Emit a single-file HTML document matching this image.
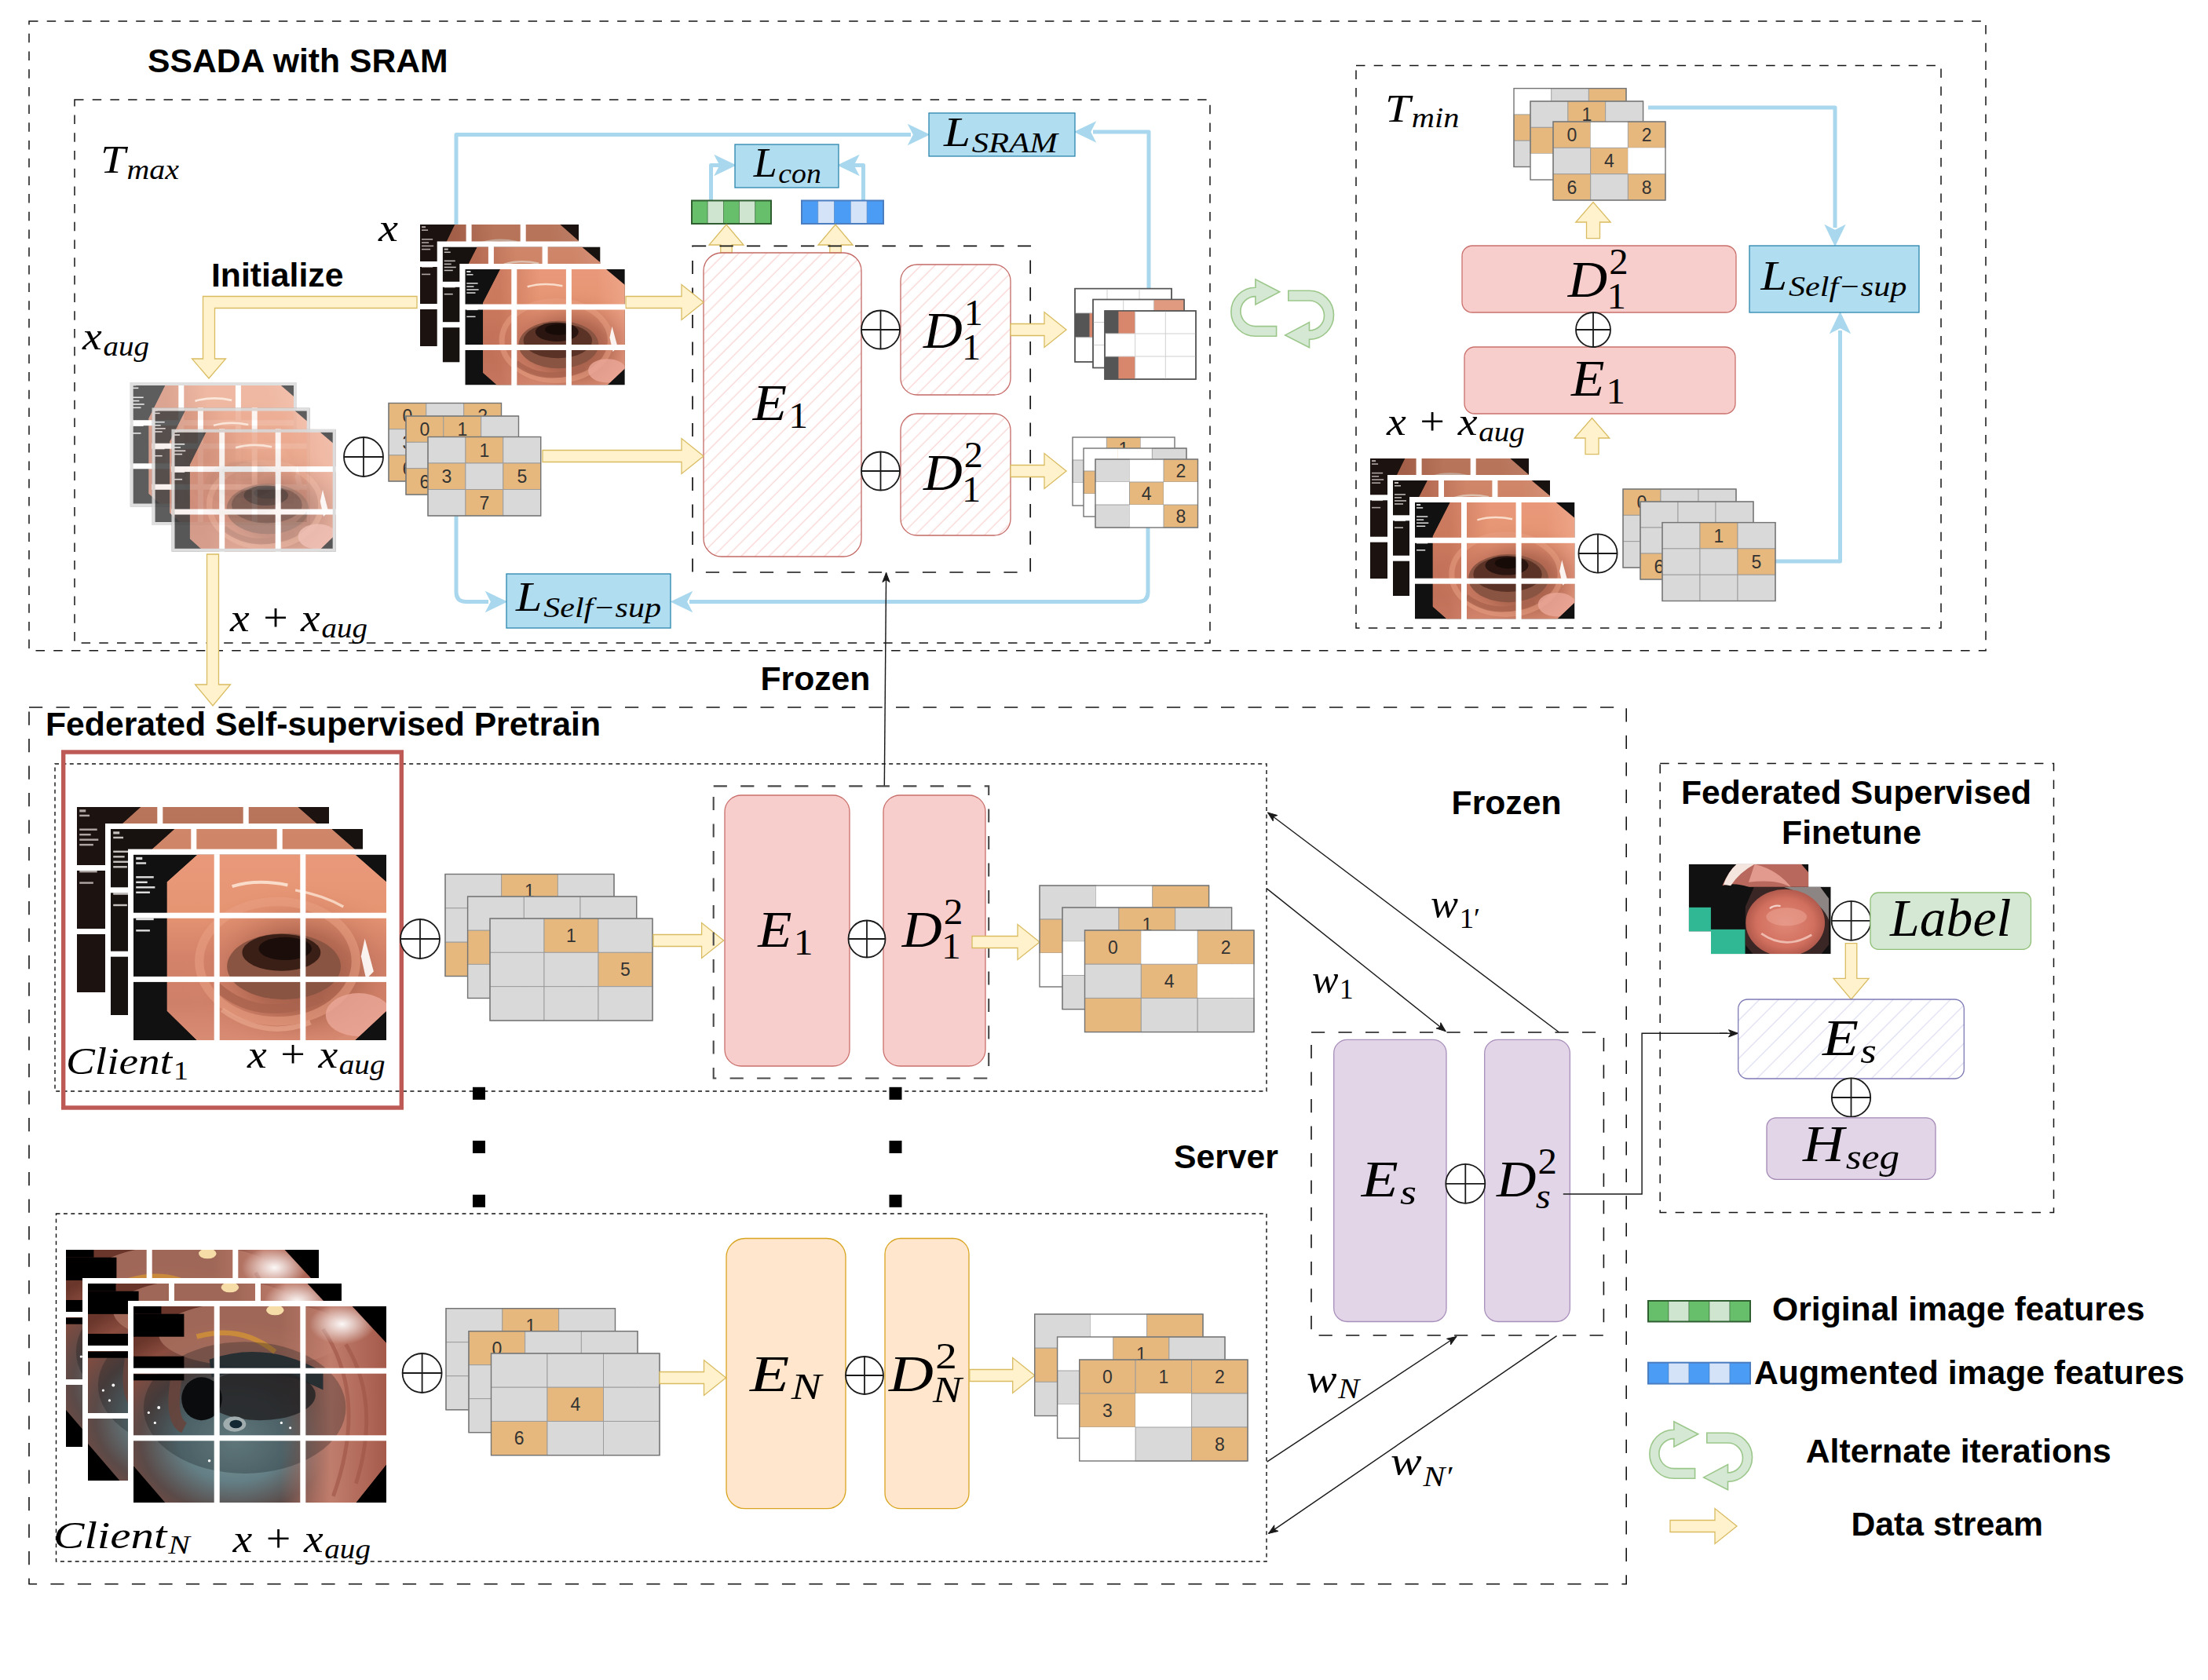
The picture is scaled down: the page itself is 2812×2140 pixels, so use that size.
<!DOCTYPE html>
<html lang="en"><head><meta charset="utf-8"><title>Federated self-supervised framework</title>
<style>html,body{margin:0;padding:0;background:#fff}svg{display:block}</style></head><body>
<svg width="2812" height="2140" viewBox="0 0 2812 2140">
<rect width="2812" height="2140" fill="#fff"/>
<defs>
<pattern id="hpink" width="12.5" height="12.5" patternUnits="userSpaceOnUse" patternTransform="rotate(-45)">
<line x1="0" y1="6" x2="12.5" y2="6" stroke="#f8d0ce" stroke-width="1.15"/></pattern>
<pattern id="hgrey" width="17.2" height="17.2" patternUnits="userSpaceOnUse" patternTransform="rotate(-45)">
<line x1="0" y1="8" x2="17.2" y2="8" stroke="#dcdcf3" stroke-width="1.2"/></pattern>
<linearGradient id="gp1" x1="0" y1="0" x2="0" y2="1">
<stop offset="0" stop-color="#e9997a"/><stop offset="0.3" stop-color="#e69573"/><stop offset="0.55" stop-color="#d4826a"/>
<stop offset="0.8" stop-color="#cf8068"/><stop offset="1" stop-color="#d98c74"/></linearGradient>
<radialGradient id="gp1r" cx="0.58" cy="0.56" r="0.5"><stop offset="0" stop-color="#8a4e3c" stop-opacity=".95"/>
<stop offset="0.45" stop-color="#a9614b" stop-opacity=".75"/><stop offset="0.75" stop-color="#c97a60" stop-opacity=".3"/><stop offset="1" stop-color="#d98a6e" stop-opacity="0"/></radialGradient>
<linearGradient id="gp1l" x1="0" y1="0" x2="1" y2="0"><stop offset="0.12" stop-color="#b9674f" stop-opacity=".6"/>
<stop offset="0.4" stop-color="#b9674f" stop-opacity="0"/><stop offset="0.8" stop-color="#f2ae95" stop-opacity="0"/><stop offset="1" stop-color="#f2ae95" stop-opacity=".55"/></linearGradient>
<radialGradient id="gpn" cx="0.4" cy="0.68" r="0.62">
<stop offset="0" stop-color="#7f9ca0"/><stop offset="0.35" stop-color="#637e84"/><stop offset="0.6" stop-color="#5a4a48"/>
<stop offset="0.85" stop-color="#8a4c3e"/><stop offset="1" stop-color="#6a362b"/></radialGradient>
<linearGradient id="gpnr" x1="0" y1="0" x2="1" y2="0"><stop offset="0.58" stop-color="#c07a6a" stop-opacity="0"/>
<stop offset="0.78" stop-color="#c4806f" stop-opacity=".95"/><stop offset="1" stop-color="#a85c4c" stop-opacity=".95"/></linearGradient>
<radialGradient id="gpnh" cx="0.5" cy="0.5" r="0.5"><stop offset="0" stop-color="#fff" stop-opacity=".95"/><stop offset="1" stop-color="#fff" stop-opacity="0"/></radialGradient>
<radialGradient id="gp3" cx="0.5" cy="0.5" r="0.6"><stop offset="0" stop-color="#e08878"/><stop offset="0.6" stop-color="#d2705f"/>
<stop offset="1" stop-color="#9a4a3f"/></radialGradient>

<symbol id="ph1" viewBox="0 0 200 146" preserveAspectRatio="none">
<rect width="200" height="146" fill="#111"/>
<polygon id="oct1" points="26.6,21.6 50.8,0 175.2,0 200,21.6 200,123 175.2,146 50.2,146 26.6,123" fill="url(#gp1)"/>
<use href="#oct1" fill="url(#gp1l)"/>
<clipPath id="c1"><polygon points="26.6,21.6 50.8,0 175.2,0 200,21.6 200,123 175.2,146 50.2,146 26.6,123"/></clipPath>
<g clip-path="url(#c1)">
<ellipse cx="116" cy="84" rx="92" ry="70" fill="url(#gp1r)"/>
<ellipse cx="114" cy="84" rx="62" ry="47" fill="none" stroke="#e9a184" stroke-width="7" opacity=".55"/>
<ellipse cx="119" cy="88" rx="45" ry="26" fill="#8a5442"/>
<ellipse cx="117" cy="77" rx="31" ry="14.5" fill="#3a1f17"/>
<ellipse cx="120" cy="74" rx="21" ry="9" fill="#1a0d0a"/>
<path d="M66 104Q100 134 150 112" stroke="#a9634e" stroke-width="7" fill="none" opacity=".8"/>
<path d="M70 122Q104 146 140 132" stroke="#e7a58c" stroke-width="4" fill="none" opacity=".7"/>
<ellipse cx="178" cy="126" rx="26" ry="17" fill="#eba898" opacity=".8"/>
<path d="M183 66L190 92L184 98L180 80Z" fill="#fff" opacity=".9"/>
<path d="M78 25Q98 19 122 24" stroke="#fbe3d3" stroke-width="2.5" fill="none" opacity=".9"/>
<path d="M128 28Q150 32 166 41" stroke="#fbe3d3" stroke-width="2" fill="none" opacity=".8"/>
</g>
<g fill="#ddd"><rect x="2" y="2" width="5" height="2"/><rect x="2" y="6" width="8" height="1.5"/><rect x="2" y="17" width="14" height="1.5"/><rect x="2" y="21" width="9" height="1.5"/>
<rect x="2" y="25" width="15" height="1.5"/><rect x="2" y="29" width="11" height="1.5"/><rect x="2" y="50" width="14" height="1.6"/><rect x="2" y="59" width="11" height="1.5"/></g>
</symbol>

<symbol id="ph1b" viewBox="0 0 200 146" preserveAspectRatio="none">
<rect width="200" height="146" fill="#111"/>
<polygon points="22.4,42.3 44,0 176.6,0 200,19.7 200,125 178,146 40,146 22.4,130.5" fill="url(#gp1)"/>
<polygon points="22.4,42.3 44,0 176.6,0 200,19.7 200,125 178,146 40,146 22.4,130.5" fill="url(#gp1l)"/>
<clipPath id="c1b"><polygon points="22.4,42.3 44,0 176.6,0 200,19.7 200,125 178,146 40,146 22.4,130.5"/></clipPath>
<g clip-path="url(#c1b)">
<ellipse cx="116" cy="90" rx="98" ry="74" fill="url(#gp1r)"/>
<ellipse cx="114" cy="90" rx="68" ry="50" fill="none" stroke="#e9a184" stroke-width="7" opacity=".5"/>
<ellipse cx="117" cy="95" rx="50" ry="30" fill="#8a5442"/>
<ellipse cx="116" cy="90" rx="43" ry="22" fill="#5a3226"/>
<ellipse cx="115" cy="79" rx="27" ry="12" fill="#2a1510"/>
<ellipse cx="117" cy="76" rx="17" ry="7" fill="#170b08"/>
<path d="M64 118Q100 146 150 124" stroke="#a9634e" stroke-width="7" fill="none" opacity=".8"/>
<ellipse cx="178" cy="128" rx="24" ry="15" fill="#eba898" opacity=".8"/>
<path d="M184 72L191 98L185 104L181 86Z" fill="#fff" opacity=".9"/>
<path d="M78 22Q98 16 122 21" stroke="#fbe3d3" stroke-width="2.5" fill="none" opacity=".9"/>
</g>
<g fill="#ddd"><rect x="2" y="2" width="5" height="2"/><rect x="2" y="6" width="8" height="1.5"/><rect x="2" y="17" width="14" height="1.5"/><rect x="2" y="21" width="9" height="1.5"/>
<rect x="2" y="25" width="15" height="1.5"/><rect x="2" y="29" width="11" height="1.5"/><rect x="2" y="50" width="14" height="1.6"/><rect x="2" y="59" width="11" height="1.5"/></g>
</symbol>

<symbol id="phn" viewBox="0 0 200 155" preserveAspectRatio="none">
<rect width="200" height="155" fill="#000"/>
<clipPath id="cn"><polygon points="0,0 173,0 200,29 200,125 176,155 25,155 0,126"/></clipPath>
<g clip-path="url(#cn)">
<rect width="200" height="155" fill="url(#gpn)"/>
<ellipse cx="95" cy="22" rx="75" ry="26" fill="#a8705f" opacity=".85"/>
<rect width="200" height="155" fill="url(#gpnr)"/>
<path d="M60 42Q105 26 150 52L150 66Q105 44 62 56Z" fill="#26343a" opacity=".9"/>
<ellipse cx="100" cy="70" rx="44" ry="20" fill="#2e2a2c" opacity=".85"/>
<path d="M50 24Q85 14 112 36" stroke="#c98a3c" stroke-width="4" fill="none"/>
<ellipse cx="54" cy="73" rx="16" ry="17" fill="#0b0909"/>
<path d="M34 56Q28 90 40 96" stroke="#8a564a" stroke-width="9" fill="none" opacity=".9"/>
<ellipse cx="80" cy="93" rx="9" ry="6" fill="#d9e6e8"/><ellipse cx="81" cy="93" rx="5" ry="3.2" fill="#16303c"/>
<path d="M150 18Q186 72 158 150" stroke="#9a5042" stroke-width="3" fill="none" opacity=".55"/>
<path d="M168 30Q196 76 176 140" stroke="#9a5042" stroke-width="3" fill="none" opacity=".5"/>
<ellipse cx="88" cy="80" rx="80" ry="52" fill="#101418" opacity=".28"/>
<ellipse cx="165" cy="14" rx="26" ry="16" fill="url(#gpnh)"/>
<ellipse cx="112" cy="3" rx="7" ry="4" fill="#ffe9b0" opacity=".9"/>
</g>
<rect x="0" y="0" width="22" height="6" fill="#000"/><rect x="0" y="6" width="40" height="18" fill="#000"/><rect x="0" y="39.5" width="40" height="12" fill="#000"/><rect x="0" y="53.5" width="40" height="5" fill="#000"/>
<g fill="#fff"><circle cx="20" cy="80" r="1.2"/><circle cx="17" cy="92" r="1"/><circle cx="12" cy="84" r="1"/><circle cx="60" cy="122" r="1.1"/><circle cx="117" cy="92" r="1"/><circle cx="124" cy="96" r="1"/></g>
</symbol>

<symbol id="ph3" viewBox="0 0 200 112" preserveAspectRatio="none">
<rect width="200" height="112" fill="#111"/>
<rect x="0" y="71" width="57" height="41" fill="#2fb893"/>
<clipPath id="c3"><polygon points="57,34 72,0 182,0 197,20 197,96 184,112 70,112 57,96"/></clipPath>
<g clip-path="url(#c3)"><rect x="57" width="143" height="112" fill="#3a2624"/>
<path d="M120 0H200V70Q196 24 120 0Z" fill="#8d8583"/>
<ellipse cx="124" cy="60" rx="66" ry="56" fill="url(#gp3)"/>
<ellipse cx="126" cy="50" rx="34" ry="15" fill="#eea898" opacity=".5"/>
<path d="M84 78Q124 106 168 80" stroke="#f7d3c8" stroke-width="3.5" fill="none" opacity=".75"/>
<path d="M98 36Q106 30 116 32" stroke="#fbe6e0" stroke-width="3" fill="none" opacity=".8"/>
</g>
</symbol>
<symbol id="ph3b" viewBox="0 0 200 112" preserveAspectRatio="none">
<rect width="200" height="112" fill="#111"/>
<rect x="0" y="72" width="37" height="40" fill="#2fb893"/>
<path d="M56 36Q66 12 80 0H188L200 14V112H90Q140 60 100 38Q76 30 56 36Z" fill="#b8685c"/>
<path d="M58 34Q66 12 80 0H110Q84 14 70 36Z" fill="#f4e6de"/>
<path d="M110 0Q150 10 172 40Q150 24 100 30Z" fill="#e29a8e"/>
</symbol>
</defs>
<rect x="37" y="27" width="2492" height="801.8" fill="none" stroke="#151515" stroke-width="1.5" stroke-dasharray="11.5 11.2"/>
<text x="188" y="92" font-family='"Liberation Sans", Arial, Helvetica, sans-serif' font-weight="700" font-size="42.7" fill="#000" text-anchor="start">SSADA with SRAM</text>
<rect x="95" y="127" width="1446" height="692" fill="none" stroke="#151515" stroke-width="1.5" stroke-dasharray="11.5 11.2"/>
<text transform="translate(128 220) scale(1.141 1)" font-family='"Liberation Serif", "Times New Roman", serif' font-style="italic" font-size="50" fill="#000"><tspan x="0" y="0">T</tspan><tspan x="29.3" y="7.5" font-size="35">max</tspan></text>
<path d="M581 286V171.5H1160" fill="none" stroke="#a9d8ee" stroke-width="5" stroke-linejoin="round"/>
<polygon points="1182,171.5 1158,160 1164,171.5 1158,183" fill="#a9d8ee" stroke="#a9d8ee" stroke-width="2" stroke-linejoin="miter"/>
<path d="M1463 367V168H1392" fill="none" stroke="#a9d8ee" stroke-width="5" stroke-linejoin="round"/>
<polygon points="1370,168 1394,156.5 1388,168 1394,179.5" fill="#a9d8ee" stroke="#a9d8ee" stroke-width="2" stroke-linejoin="miter"/>
<path d="M581 657V754Q581 766.5 593.5 766.5H622" fill="none" stroke="#a9d8ee" stroke-width="5" stroke-linejoin="round"/>
<polygon points="644,766.5 620,755 626,766.5 620,778" fill="#a9d8ee" stroke="#a9d8ee" stroke-width="2" stroke-linejoin="miter"/>
<path d="M1462 672V754Q1462 766.5 1449.5 766.5H878" fill="none" stroke="#a9d8ee" stroke-width="5" stroke-linejoin="round"/>
<polygon points="856,766.5 880,755 874,766.5 880,778" fill="#a9d8ee" stroke="#a9d8ee" stroke-width="2" stroke-linejoin="miter"/>
<path d="M905.5 256V210.5H918" fill="none" stroke="#a9d8ee" stroke-width="5" stroke-linejoin="round"/>
<polygon points="935.5,210.5 911.5,199 917.5,210.5 911.5,222" fill="#a9d8ee" stroke="#a9d8ee" stroke-width="2" stroke-linejoin="miter"/>
<path d="M1099.5 256V210.5H1086" fill="none" stroke="#a9d8ee" stroke-width="5" stroke-linejoin="round"/>
<polygon points="1068.5,210.5 1092.5,199 1086.5,210.5 1092.5,222" fill="#a9d8ee" stroke="#a9d8ee" stroke-width="2" stroke-linejoin="miter"/>
<rect x="1183" y="144" width="186" height="55" fill="#b1ddf0" stroke="#2a86ad" stroke-width="1.3"/>
<text transform="translate(1202 186) scale(1.173 1)" font-family='"Liberation Serif", "Times New Roman", serif' font-style="italic" font-size="52" fill="#000"><tspan x="0" y="0">L</tspan><tspan x="30.5" y="7.8" font-size="36.4">SRAM</tspan></text>
<rect x="936" y="184" width="132" height="55" fill="#b1ddf0" stroke="#2a86ad" stroke-width="1.3"/>
<text transform="translate(959.7 225) scale(1.037 1)" font-family='"Liberation Serif", "Times New Roman", serif' font-style="italic" font-size="52" fill="#000"><tspan x="0" y="0">L</tspan><tspan x="30.5" y="7.8" font-size="36.4">con</tspan></text>
<rect x="645" y="731" width="209" height="69" fill="#b1ddf0" stroke="#2a86ad" stroke-width="1.3"/>
<text transform="translate(657 778) scale(1.155 1)" font-family='"Liberation Serif", "Times New Roman", serif' font-style="italic" font-size="52" fill="#000"><tspan x="0" y="0">L</tspan><tspan x="30.5" y="7.8" font-size="36.4">Self−sup</tspan></text>
<g><rect x="881" y="255.5" width="20.2" height="29.5" fill="#67bf6b" stroke="#2f5f30" stroke-width="0.8" stroke-opacity=".6"/><rect x="901.2" y="255.5" width="20.2" height="29.5" fill="#cfe5cf" stroke="#2f5f30" stroke-width="0.8" stroke-opacity=".6"/><rect x="921.4" y="255.5" width="20.2" height="29.5" fill="#67bf6b" stroke="#2f5f30" stroke-width="0.8" stroke-opacity=".6"/><rect x="941.6" y="255.5" width="20.2" height="29.5" fill="#cfe5cf" stroke="#2f5f30" stroke-width="0.8" stroke-opacity=".6"/><rect x="961.8" y="255.5" width="20.2" height="29.5" fill="#67bf6b" stroke="#2f5f30" stroke-width="0.8" stroke-opacity=".6"/><rect x="881" y="255.5" width="101" height="29.5" fill="none" stroke="#2f5f30" stroke-width="2"/></g>
<g><rect x="1021" y="255.5" width="20.8" height="29.5" fill="#4b9cf5" stroke="#4a7ec0" stroke-width="0.8" stroke-opacity=".6"/><rect x="1041.8" y="255.5" width="20.8" height="29.5" fill="#d4e3f8" stroke="#4a7ec0" stroke-width="0.8" stroke-opacity=".6"/><rect x="1062.6" y="255.5" width="20.8" height="29.5" fill="#4b9cf5" stroke="#4a7ec0" stroke-width="0.8" stroke-opacity=".6"/><rect x="1083.4" y="255.5" width="20.8" height="29.5" fill="#d4e3f8" stroke="#4a7ec0" stroke-width="0.8" stroke-opacity=".6"/><rect x="1104.2" y="255.5" width="20.8" height="29.5" fill="#4b9cf5" stroke="#4a7ec0" stroke-width="0.8" stroke-opacity=".6"/><rect x="1021" y="255.5" width="104" height="29.5" fill="none" stroke="#4a7ec0" stroke-width="2"/></g>
<polygon points="932.2,322 932.2,312 947,312 925,286 903,312 917.8,312 917.8,322" fill="#fff2cc" stroke="#d9bc62" stroke-width="1.3" stroke-linejoin="miter"/>
<polygon points="1071.2,322 1071.2,312 1086,312 1064,286 1042,312 1056.8,312 1056.8,322" fill="#fff2cc" stroke="#d9bc62" stroke-width="1.3" stroke-linejoin="miter"/>
<path d="M1126.3 1001L1128.6 729.5" stroke="#1a1a1a" stroke-width="1.45" fill="none"/>
<polygon points="1128.6,729.5 1133.1,741.5 1128.5,738.5 1123.9,741.5" fill="#1a1a1a" stroke="#1a1a1a" stroke-width="1"/>
<rect x="882" y="313.3" width="430.2" height="415.7" fill="none" stroke="#151515" stroke-width="1.7" stroke-dasharray="17.2 17.3"/>
<rect x="896" y="322" width="201" height="387" rx="23" ry="23" fill="url(#hpink)" stroke="#c46a66" stroke-width="1.3"/>
<rect x="1147" y="337" width="140" height="166" rx="21" ry="21" fill="url(#hpink)" stroke="#c46a66" stroke-width="1.3"/>
<rect x="1147" y="527" width="140" height="155" rx="21" ry="21" fill="url(#hpink)" stroke="#c46a66" stroke-width="1.3"/>
<g stroke="#1a1a1a" stroke-width="1.8" fill="#fff"><circle cx="1121.5" cy="420" r="24.5"/><path d="M1097 420H1146M1121.5 395.5V444.5" fill="none"/></g>
<g stroke="#1a1a1a" stroke-width="1.8" fill="#fff"><circle cx="1121.5" cy="600" r="24.5"/><path d="M1097 600H1146M1121.5 575.5V624.5" fill="none"/></g>
<text transform="translate(958.7 535) scale(1.075 1)" font-family='"Liberation Serif", "Times New Roman", serif' font-style="italic" font-size="66" fill="#000"><tspan x="0" y="0">E</tspan><tspan x="42.3" y="9.9" font-size="46.2" font-style="normal">1</tspan></text>
<text transform="translate(1176 443) scale(1.045 1)" font-family='"Liberation Serif", "Times New Roman", serif' font-style="italic" font-size="66" fill="#000"><tspan x="0" y="0">D</tspan><tspan x="49.6" y="-29" font-size="46.2" font-style="normal">1</tspan><tspan x="47" y="14.5" font-size="46.2" font-style="normal">1</tspan></text>
<text transform="translate(1176 624) scale(1.045 1)" font-family='"Liberation Serif", "Times New Roman", serif' font-style="italic" font-size="66" fill="#000"><tspan x="0" y="0">D</tspan><tspan x="49.6" y="-29" font-size="46.2" font-style="normal">2</tspan><tspan x="47" y="14.5" font-size="46.2" font-style="normal">1</tspan></text>
<polygon points="531,377.5 258.5,377.5 258.5,457 244.5,457 266,482 287.5,457 273.5,457 273.5,392.5 531,392.5" fill="#fff2cc" stroke="#d9bc62" stroke-width="1.3"/>
<text x="269" y="364.5" font-family='"Liberation Sans", Arial, Helvetica, sans-serif' font-weight="700" font-size="42.7" fill="#000" text-anchor="start">Initialize</text>
<polygon points="797,392.5 868,392.5 868,407.5 896,385 868,362.5 868,377.5 797,377.5" fill="#fff2cc" stroke="#d9bc62" stroke-width="1.3" stroke-linejoin="miter"/>
<polygon points="691,588.5 868,588.5 868,603.5 896,581 868,558.5 868,573.5 691,573.5" fill="#fff2cc" stroke="#d9bc62" stroke-width="1.3" stroke-linejoin="miter"/>
<polygon points="1287,427.5 1330,427.5 1330,442.5 1358,420 1330,397.5 1330,412.5 1287,412.5" fill="#fff2cc" stroke="#d9bc62" stroke-width="1.3" stroke-linejoin="miter"/>
<polygon points="1287,607.5 1330,607.5 1330,622.5 1358,600 1330,577.5 1330,592.5 1287,592.5" fill="#fff2cc" stroke="#d9bc62" stroke-width="1.3" stroke-linejoin="miter"/>
<polygon points="263.5,706 263.5,872 248.5,872 271,899 293.5,872 278.5,872 278.5,706" fill="#fff2cc" stroke="#d9bc62" stroke-width="1.3" stroke-linejoin="miter"/>
<text transform="translate(482 307) scale(1.127 1)" font-family='"Liberation Serif", "Times New Roman", serif' font-style="italic" font-size="50" fill="#000"><tspan x="0" y="0">x</tspan></text>
<g><use href="#ph1b" x="535" y="286" width="202" height="155"/><rect x="535" y="286" width="202" height="155" fill="#3a1a10" opacity="0.28"/><rect x="593.6" y="285.5" width="7" height="156" fill="#fff"/><rect x="534.5" y="333" width="203" height="7" fill="#fff"/><rect x="662.7" y="285.5" width="7" height="156" fill="#fff"/><rect x="534.5" y="387" width="203" height="7" fill="#fff"/></g>
<rect x="556.7" y="307.5" width="207.8" height="154" fill="#fff"/><g><use href="#ph1b" x="563.7" y="314.5" width="200.8" height="147"/><rect x="563.7" y="314.5" width="200.8" height="147" fill="#3a1a10" opacity="0.15"/><rect x="621.9" y="314" width="7" height="148" fill="#fff"/><rect x="563.2" y="358.8" width="201.8" height="7" fill="#fff"/><rect x="690.6" y="314" width="7" height="148" fill="#fff"/><rect x="563.2" y="410.2" width="201.8" height="7" fill="#fff"/></g>
<rect x="585.3" y="336" width="210.5" height="154.5" fill="#fff"/><g><use href="#ph1b" x="592.3" y="343" width="203.5" height="147.5"/><rect x="651.3" y="342.5" width="7" height="148.5" fill="#fff"/><rect x="591.8" y="387.5" width="204.5" height="7" fill="#fff"/><rect x="720.9" y="342.5" width="7" height="148.5" fill="#fff"/><rect x="591.8" y="439" width="204.5" height="7" fill="#fff"/></g>
<text transform="translate(105 445) scale(1.116 1)" font-family='"Liberation Serif", "Times New Roman", serif' font-style="italic" font-size="50" fill="#000"><tspan x="0" y="0">x</tspan><tspan x="23.7" y="7.5" font-size="35">aug</tspan></text>
<rect x="165.7" y="487" width="212.3" height="158.5" fill="#fff" opacity="0.55"/><g opacity="0.68"><use href="#ph1b" x="165.7" y="487" width="212.3" height="158.5"/><rect x="227.3" y="486.5" width="7" height="159.5" fill="#fff"/><rect x="165.2" y="535.2" width="213.3" height="7" fill="#fff"/><rect x="299.9" y="486.5" width="7" height="159.5" fill="#fff"/><rect x="165.2" y="590.3" width="213.3" height="7" fill="#fff"/><rect x="167.7" y="489" width="208.3" height="154.5" fill="none" stroke="#d0d0d0" stroke-width="4"/></g>
<rect x="193.6" y="519.5" width="201.1" height="149.5" fill="#fff" opacity="0.55"/><g opacity="0.68"><use href="#ph1b" x="193.6" y="519.5" width="201.1" height="149.5"/><rect x="251.9" y="519" width="7" height="150.5" fill="#fff"/><rect x="193.1" y="564.7" width="202.1" height="7" fill="#fff"/><rect x="320.7" y="519" width="7" height="150.5" fill="#fff"/><rect x="193.1" y="616.8" width="202.1" height="7" fill="#fff"/><rect x="195.6" y="521.5" width="197.1" height="145.5" fill="none" stroke="#d0d0d0" stroke-width="4"/></g>
<rect x="218.5" y="546.8" width="209.2" height="156" fill="#fff" opacity="0.55"/><g opacity="0.7"><use href="#ph1b" x="218.5" y="546.8" width="209.2" height="156"/><rect x="279.2" y="546.3" width="7" height="157" fill="#fff"/><rect x="218" y="594.1" width="210.2" height="7" fill="#fff"/><rect x="350.7" y="546.3" width="7" height="157" fill="#fff"/><rect x="218" y="648.5" width="210.2" height="7" fill="#fff"/><rect x="220.5" y="548.8" width="205.2" height="152" fill="none" stroke="#d0d0d0" stroke-width="4"/></g>
<g stroke="#1a1a1a" stroke-width="1.8" fill="#fff"><circle cx="463" cy="582" r="25"/><path d="M438 582H488M463 557V607" fill="none"/></g>
<g><rect x="495" y="513.5" width="47.8" height="33.2" fill="#e6b87d" stroke="#9a9a9a" stroke-width="0.9"/><rect x="542.8" y="513.5" width="47.8" height="33.2" fill="#d9d9d9" stroke="#9a9a9a" stroke-width="0.9"/><rect x="590.7" y="513.5" width="47.8" height="33.2" fill="#e6b87d" stroke="#9a9a9a" stroke-width="0.9"/><rect x="495" y="546.7" width="47.8" height="33.2" fill="#d9d9d9" stroke="#9a9a9a" stroke-width="0.9"/><rect x="542.8" y="546.7" width="47.8" height="33.2" fill="#d9d9d9" stroke="#9a9a9a" stroke-width="0.9"/><rect x="590.7" y="546.7" width="47.8" height="33.2" fill="#ffffff" stroke="none"/><rect x="495" y="579.8" width="47.8" height="33.2" fill="#e6b87d" stroke="#9a9a9a" stroke-width="0.9"/><rect x="542.8" y="579.8" width="47.8" height="33.2" fill="#d9d9d9" stroke="#9a9a9a" stroke-width="0.9"/><rect x="590.7" y="579.8" width="47.8" height="33.2" fill="#d9d9d9" stroke="#9a9a9a" stroke-width="0.9"/><rect x="495" y="513.5" width="143.5" height="99.5" fill="none" stroke="#747474" stroke-width="1.4"/><text x="518.9" y="538.4" font-family='"Liberation Sans", Arial, Helvetica, sans-serif' font-size="23" fill="#333" text-anchor="middle">0</text><text x="614.6" y="538.4" font-family='"Liberation Sans", Arial, Helvetica, sans-serif' font-size="23" fill="#333" text-anchor="middle">2</text><text x="518.9" y="571.5" font-family='"Liberation Sans", Arial, Helvetica, sans-serif' font-size="23" fill="#333" text-anchor="middle">3</text><text x="518.9" y="604.7" font-family='"Liberation Sans", Arial, Helvetica, sans-serif' font-size="23" fill="#333" text-anchor="middle">6</text></g>
<g><rect x="517" y="530" width="47.8" height="33.3" fill="#e6b87d" stroke="#9a9a9a" stroke-width="0.9"/><rect x="564.8" y="530" width="47.8" height="33.3" fill="#e6b87d" stroke="#9a9a9a" stroke-width="0.9"/><rect x="612.7" y="530" width="47.8" height="33.3" fill="#d9d9d9" stroke="#9a9a9a" stroke-width="0.9"/><rect x="517" y="563.3" width="47.8" height="33.3" fill="#d9d9d9" stroke="#9a9a9a" stroke-width="0.9"/><rect x="564.8" y="563.3" width="47.8" height="33.3" fill="#d9d9d9" stroke="#9a9a9a" stroke-width="0.9"/><rect x="612.7" y="563.3" width="47.8" height="33.3" fill="#d9d9d9" stroke="#9a9a9a" stroke-width="0.9"/><rect x="517" y="596.7" width="47.8" height="33.3" fill="#e6b87d" stroke="#9a9a9a" stroke-width="0.9"/><rect x="564.8" y="596.7" width="47.8" height="33.3" fill="#d9d9d9" stroke="#9a9a9a" stroke-width="0.9"/><rect x="612.7" y="596.7" width="47.8" height="33.3" fill="#d9d9d9" stroke="#9a9a9a" stroke-width="0.9"/><rect x="517" y="530" width="143.5" height="100" fill="none" stroke="#747474" stroke-width="1.4"/><text x="540.9" y="554.9" font-family='"Liberation Sans", Arial, Helvetica, sans-serif' font-size="23" fill="#333" text-anchor="middle">0</text><text x="588.8" y="554.9" font-family='"Liberation Sans", Arial, Helvetica, sans-serif' font-size="23" fill="#333" text-anchor="middle">1</text><text x="540.9" y="621.6" font-family='"Liberation Sans", Arial, Helvetica, sans-serif' font-size="23" fill="#333" text-anchor="middle">6</text></g>
<g><rect x="545" y="556.5" width="47.9" height="33.5" fill="#d9d9d9" stroke="#9a9a9a" stroke-width="0.9"/><rect x="592.9" y="556.5" width="47.9" height="33.5" fill="#e6b87d" stroke="#9a9a9a" stroke-width="0.9"/><rect x="640.8" y="556.5" width="47.9" height="33.5" fill="#d9d9d9" stroke="#9a9a9a" stroke-width="0.9"/><rect x="545" y="590" width="47.9" height="33.5" fill="#e6b87d" stroke="#9a9a9a" stroke-width="0.9"/><rect x="592.9" y="590" width="47.9" height="33.5" fill="#d9d9d9" stroke="#9a9a9a" stroke-width="0.9"/><rect x="640.8" y="590" width="47.9" height="33.5" fill="#e6b87d" stroke="#9a9a9a" stroke-width="0.9"/><rect x="545" y="623.5" width="47.9" height="33.5" fill="#d9d9d9" stroke="#9a9a9a" stroke-width="0.9"/><rect x="592.9" y="623.5" width="47.9" height="33.5" fill="#e6b87d" stroke="#9a9a9a" stroke-width="0.9"/><rect x="640.8" y="623.5" width="47.9" height="33.5" fill="#d9d9d9" stroke="#9a9a9a" stroke-width="0.9"/><rect x="545" y="556.5" width="143.7" height="100.5" fill="none" stroke="#747474" stroke-width="1.4"/><text x="616.9" y="581.5" font-family='"Liberation Sans", Arial, Helvetica, sans-serif' font-size="23" fill="#333" text-anchor="middle">1</text><text x="569" y="615" font-family='"Liberation Sans", Arial, Helvetica, sans-serif' font-size="23" fill="#333" text-anchor="middle">3</text><text x="664.8" y="615" font-family='"Liberation Sans", Arial, Helvetica, sans-serif' font-size="23" fill="#333" text-anchor="middle">5</text><text x="616.9" y="648.5" font-family='"Liberation Sans", Arial, Helvetica, sans-serif' font-size="23" fill="#333" text-anchor="middle">7</text></g>
<text transform="translate(293 804) scale(1.114 1)" font-family='"Liberation Serif", "Times New Roman", serif' font-style="italic" font-size="50" fill="#000"><tspan x="0" y="0">x + x</tspan><tspan x="104.6" y="7.5" font-size="35">aug</tspan></text>
<g><rect x="1369" y="367.6" width="123" height="93.4" fill="#fff" stroke="#555" stroke-width="1.4"/><rect x="1369" y="398.7" width="41" height="31.1" fill="#555"/><rect x="1387.5" y="398.7" width="22.6" height="31.1" fill="#d9876c"/><path d="M1410 367.6V461M1369 398.7H1492" stroke="#d0d0d0" stroke-width="1" fill="none"/><path d="M1451 367.6V461M1369 429.9H1492" stroke="#d0d0d0" stroke-width="1" fill="none"/><rect x="1369" y="367.6" width="123" height="93.4" fill="none" stroke="#555" stroke-width="1.4"/></g>
<g><rect x="1392" y="381.5" width="116" height="87" fill="#fff" stroke="#555" stroke-width="1.4"/><rect x="1469.3" y="381.5" width="38.7" height="29" fill="#444"/><rect x="1469.3" y="381.5" width="38.7" height="29" fill="#e09a80"/><path d="M1430.7 381.5V468.5M1392 410.5H1508" stroke="#d0d0d0" stroke-width="1" fill="none"/><path d="M1469.3 381.5V468.5M1392 439.5H1508" stroke="#d0d0d0" stroke-width="1" fill="none"/><rect x="1392" y="381.5" width="116" height="87" fill="none" stroke="#555" stroke-width="1.4"/></g>
<g><rect x="1407" y="396" width="116" height="87" fill="#fff" stroke="#555" stroke-width="1.4"/><rect x="1407" y="396" width="38.7" height="29" fill="#555"/><rect x="1424.4" y="396" width="21.3" height="29" fill="#d9876c"/><rect x="1407" y="454" width="38.7" height="29" fill="#555"/><rect x="1424.4" y="454" width="21.3" height="29" fill="#d9876c"/><path d="M1445.7 396V483M1407 425H1523" stroke="#d0d0d0" stroke-width="1" fill="none"/><path d="M1484.3 396V483M1407 454H1523" stroke="#d0d0d0" stroke-width="1" fill="none"/><rect x="1407" y="396" width="116" height="87" fill="none" stroke="#555" stroke-width="1.4"/></g>
<g><rect x="1366" y="557" width="43.3" height="29" fill="#ffffff" stroke="none"/><rect x="1409.3" y="557" width="43.3" height="29" fill="#e6b87d" stroke="#9a9a9a" stroke-width="0.9"/><rect x="1452.7" y="557" width="43.3" height="29" fill="#ffffff" stroke="none"/><rect x="1366" y="586" width="43.3" height="29" fill="#d9d9d9" stroke="#9a9a9a" stroke-width="0.9"/><rect x="1409.3" y="586" width="43.3" height="29" fill="#ffffff" stroke="none"/><rect x="1452.7" y="586" width="43.3" height="29" fill="#ffffff" stroke="none"/><rect x="1366" y="615" width="43.3" height="29" fill="#ffffff" stroke="none"/><rect x="1409.3" y="615" width="43.3" height="29" fill="#ffffff" stroke="none"/><rect x="1452.7" y="615" width="43.3" height="29" fill="#ffffff" stroke="none"/><rect x="1366" y="557" width="130" height="87" fill="none" stroke="#747474" stroke-width="1.4"/><text x="1431" y="579.8" font-family='"Liberation Sans", Arial, Helvetica, sans-serif' font-size="23" fill="#333" text-anchor="middle">1</text></g>
<g><rect x="1380" y="571" width="43.7" height="29" fill="#ffffff" stroke="none"/><rect x="1423.7" y="571" width="43.7" height="29" fill="#ffffff" stroke="none"/><rect x="1467.3" y="571" width="43.7" height="29" fill="#d9d9d9" stroke="#9a9a9a" stroke-width="0.9"/><rect x="1380" y="600" width="43.7" height="29" fill="#e6b87d" stroke="#9a9a9a" stroke-width="0.9"/><rect x="1423.7" y="600" width="43.7" height="29" fill="#ffffff" stroke="none"/><rect x="1467.3" y="600" width="43.7" height="29" fill="#ffffff" stroke="none"/><rect x="1380" y="629" width="43.7" height="29" fill="#ffffff" stroke="none"/><rect x="1423.7" y="629" width="43.7" height="29" fill="#ffffff" stroke="none"/><rect x="1467.3" y="629" width="43.7" height="29" fill="#ffffff" stroke="none"/><rect x="1380" y="571" width="131" height="87" fill="none" stroke="#747474" stroke-width="1.4"/></g>
<g><rect x="1395" y="585" width="43.5" height="29" fill="#d9d9d9" stroke="#9a9a9a" stroke-width="0.9"/><rect x="1438.5" y="585" width="43.5" height="29" fill="#ffffff" stroke="none"/><rect x="1482" y="585" width="43.5" height="29" fill="#e6b87d" stroke="#9a9a9a" stroke-width="0.9"/><rect x="1395" y="614" width="43.5" height="29" fill="#ffffff" stroke="none"/><rect x="1438.5" y="614" width="43.5" height="29" fill="#e6b87d" stroke="#9a9a9a" stroke-width="0.9"/><rect x="1482" y="614" width="43.5" height="29" fill="#ffffff" stroke="none"/><rect x="1395" y="643" width="43.5" height="29" fill="#d9d9d9" stroke="#9a9a9a" stroke-width="0.9"/><rect x="1438.5" y="643" width="43.5" height="29" fill="#ffffff" stroke="none"/><rect x="1482" y="643" width="43.5" height="29" fill="#e6b87d" stroke="#9a9a9a" stroke-width="0.9"/><rect x="1395" y="585" width="130.5" height="87" fill="none" stroke="#747474" stroke-width="1.4"/><text x="1503.8" y="607.8" font-family='"Liberation Sans", Arial, Helvetica, sans-serif' font-size="23" fill="#333" text-anchor="middle">2</text><text x="1460.2" y="636.8" font-family='"Liberation Sans", Arial, Helvetica, sans-serif' font-size="23" fill="#333" text-anchor="middle">4</text><text x="1503.8" y="665.8" font-family='"Liberation Sans", Arial, Helvetica, sans-serif' font-size="23" fill="#333" text-anchor="middle">8</text></g>
<g transform="translate(1540 330)" fill="#d5e8d4" stroke="#9cc78a" stroke-width="1.6" stroke-linejoin="miter"><path d="M85.6 98.3H58.9A31 31 0 0 1 58.9 36.2V25.8L89.7 41.7L58.9 58V47.6A19 19 0 0 0 58.9 85.6H85.6Z"/><path d="M85.6 98.3H58.9A31 31 0 0 1 58.9 36.2V25.8L89.7 41.7L58.9 58V47.6A19 19 0 0 0 58.9 85.6H85.6Z" transform="rotate(180 93.2 69.3)"/></g>
<rect x="1727" y="83.5" width="745" height="716.5" fill="none" stroke="#151515" stroke-width="1.5" stroke-dasharray="11.5 11.2"/>
<text transform="translate(1764 154.6) scale(1.156 1)" font-family='"Liberation Serif", "Times New Roman", serif' font-style="italic" font-size="50" fill="#000"><tspan x="0" y="0">T</tspan><tspan x="29.3" y="7.5" font-size="35">min</tspan></text>
<path d="M2099 137H2337V290" fill="none" stroke="#a9d8ee" stroke-width="5" stroke-linejoin="round"/>
<polygon points="2337,312 2325.5,288 2337,294 2348.5,288" fill="#a9d8ee" stroke="#a9d8ee" stroke-width="2" stroke-linejoin="miter"/>
<path d="M2261 715H2343.5V421" fill="none" stroke="#a9d8ee" stroke-width="5" stroke-linejoin="round"/>
<polygon points="2343.5,399 2332,423 2343.5,417 2355,423" fill="#a9d8ee" stroke="#a9d8ee" stroke-width="2" stroke-linejoin="miter"/>
<g><rect x="1928" y="112.6" width="47.7" height="33.3" fill="#ffffff" stroke="none"/><rect x="1975.7" y="112.6" width="47.7" height="33.3" fill="#d9d9d9" stroke="#9a9a9a" stroke-width="0.9"/><rect x="2023.3" y="112.6" width="47.7" height="33.3" fill="#e6b87d" stroke="#9a9a9a" stroke-width="0.9"/><rect x="1928" y="145.9" width="47.7" height="33.3" fill="#e6b87d" stroke="#9a9a9a" stroke-width="0.9"/><rect x="1975.7" y="145.9" width="47.7" height="33.3" fill="#d9d9d9" stroke="#9a9a9a" stroke-width="0.9"/><rect x="2023.3" y="145.9" width="47.7" height="33.3" fill="#ffffff" stroke="none"/><rect x="1928" y="179.2" width="47.7" height="33.3" fill="#d9d9d9" stroke="#9a9a9a" stroke-width="0.9"/><rect x="1975.7" y="179.2" width="47.7" height="33.3" fill="#ffffff" stroke="none"/><rect x="2023.3" y="179.2" width="47.7" height="33.3" fill="#ffffff" stroke="none"/><rect x="1928" y="112.6" width="143" height="99.9" fill="none" stroke="#747474" stroke-width="1.4"/></g>
<g><rect x="1949" y="129" width="47.9" height="33.3" fill="#d9d9d9" stroke="#9a9a9a" stroke-width="0.9"/><rect x="1996.9" y="129" width="47.9" height="33.3" fill="#e6b87d" stroke="#9a9a9a" stroke-width="0.9"/><rect x="2044.7" y="129" width="47.9" height="33.3" fill="#d9d9d9" stroke="#9a9a9a" stroke-width="0.9"/><rect x="1949" y="162.3" width="47.9" height="33.3" fill="#e6b87d" stroke="#9a9a9a" stroke-width="0.9"/><rect x="1996.9" y="162.3" width="47.9" height="33.3" fill="#ffffff" stroke="none"/><rect x="2044.7" y="162.3" width="47.9" height="33.3" fill="#ffffff" stroke="none"/><rect x="1949" y="195.7" width="47.9" height="33.3" fill="#ffffff" stroke="none"/><rect x="1996.9" y="195.7" width="47.9" height="33.3" fill="#ffffff" stroke="none"/><rect x="2044.7" y="195.7" width="47.9" height="33.3" fill="#ffffff" stroke="none"/><rect x="1949" y="129" width="143.6" height="100" fill="none" stroke="#747474" stroke-width="1.4"/><text x="2020.8" y="153.9" font-family='"Liberation Sans", Arial, Helvetica, sans-serif' font-size="23" fill="#333" text-anchor="middle">1</text></g>
<g><rect x="1978" y="155" width="47.7" height="33.3" fill="#e6b87d" stroke="#9a9a9a" stroke-width="0.9"/><rect x="2025.7" y="155" width="47.7" height="33.3" fill="#ffffff" stroke="none"/><rect x="2073.3" y="155" width="47.7" height="33.3" fill="#e6b87d" stroke="#9a9a9a" stroke-width="0.9"/><rect x="1978" y="188.3" width="47.7" height="33.3" fill="#d9d9d9" stroke="#9a9a9a" stroke-width="0.9"/><rect x="2025.7" y="188.3" width="47.7" height="33.3" fill="#e6b87d" stroke="#9a9a9a" stroke-width="0.9"/><rect x="2073.3" y="188.3" width="47.7" height="33.3" fill="#ffffff" stroke="none"/><rect x="1978" y="221.7" width="47.7" height="33.3" fill="#e6b87d" stroke="#9a9a9a" stroke-width="0.9"/><rect x="2025.7" y="221.7" width="47.7" height="33.3" fill="#d9d9d9" stroke="#9a9a9a" stroke-width="0.9"/><rect x="2073.3" y="221.7" width="47.7" height="33.3" fill="#e6b87d" stroke="#9a9a9a" stroke-width="0.9"/><rect x="1978" y="155" width="143" height="100" fill="none" stroke="#747474" stroke-width="1.4"/><text x="2001.8" y="179.9" font-family='"Liberation Sans", Arial, Helvetica, sans-serif' font-size="23" fill="#333" text-anchor="middle">0</text><text x="2097.2" y="179.9" font-family='"Liberation Sans", Arial, Helvetica, sans-serif' font-size="23" fill="#333" text-anchor="middle">2</text><text x="2049.5" y="213.3" font-family='"Liberation Sans", Arial, Helvetica, sans-serif' font-size="23" fill="#333" text-anchor="middle">4</text><text x="2001.8" y="246.6" font-family='"Liberation Sans", Arial, Helvetica, sans-serif' font-size="23" fill="#333" text-anchor="middle">6</text><text x="2097.2" y="246.6" font-family='"Liberation Sans", Arial, Helvetica, sans-serif' font-size="23" fill="#333" text-anchor="middle">8</text></g>
<polygon points="2037.5,303.6 2037.5,283 2051.2,283 2029,257.5 2006.8,283 2020.5,283 2020.5,303.6" fill="#fff2cc" stroke="#d9bc62" stroke-width="1.3" stroke-linejoin="miter"/>
<rect x="1862" y="313" width="349" height="85" rx="13" ry="13" fill="#f8cecc" stroke="#c9706c" stroke-width="1.3"/>
<text transform="translate(1996.8 378) scale(1.056 1)" font-family='"Liberation Serif", "Times New Roman", serif' font-style="italic" font-size="66" fill="#000"><tspan x="0" y="0">D</tspan><tspan x="49.6" y="-29" font-size="46.2" font-style="normal">2</tspan><tspan x="47" y="14.5" font-size="46.2" font-style="normal">1</tspan></text>
<rect x="1865" y="442" width="345" height="85" rx="13" ry="13" fill="#f8cecc" stroke="#c9706c" stroke-width="1.3"/>
<g stroke="#1a1a1a" stroke-width="1.8" fill="#fff"><circle cx="2029" cy="420" r="22"/><path d="M2007 420H2051M2029 398V442" fill="none"/></g>
<text transform="translate(2001 504.4) scale(1.055 1)" font-family='"Liberation Serif", "Times New Roman", serif' font-style="italic" font-size="66" fill="#000"><tspan x="0" y="0">E</tspan><tspan x="42.3" y="9.9" font-size="46.2" font-style="normal">1</tspan></text>
<polygon points="2036,578.6 2036,558 2049.8,558 2027.5,532.5 2005.2,558 2019,558 2019,578.6" fill="#fff2cc" stroke="#d9bc62" stroke-width="1.3" stroke-linejoin="miter"/>
<rect x="2228" y="313" width="216" height="85" fill="#b1ddf0" stroke="#2a86ad" stroke-width="1.3"/>
<text transform="translate(2242.6 368.7) scale(1.160 1)" font-family='"Liberation Serif", "Times New Roman", serif' font-style="italic" font-size="52" fill="#000"><tspan x="0" y="0">L</tspan><tspan x="30.5" y="7.8" font-size="36.4">Self−sup</tspan></text>
<text transform="translate(1766 554) scale(1.120 1)" font-family='"Liberation Serif", "Times New Roman", serif' font-style="italic" font-size="50" fill="#000"><tspan x="0" y="0">x + x</tspan><tspan x="104.6" y="7.5" font-size="35">aug</tspan></text>
<g><use href="#ph1b" x="1745" y="584" width="202" height="153"/><rect x="1745" y="584" width="202" height="153" fill="#3a1a10" opacity="0.28"/><rect x="1803.6" y="583.5" width="7" height="154" fill="#fff"/><rect x="1744.5" y="630.3" width="203" height="7" fill="#fff"/><rect x="1872.7" y="583.5" width="7" height="154" fill="#fff"/><rect x="1744.5" y="683.7" width="203" height="7" fill="#fff"/></g>
<rect x="1767" y="605" width="207" height="154" fill="#fff"/><g><use href="#ph1b" x="1774" y="612" width="200" height="147"/><rect x="1774" y="612" width="200" height="147" fill="#3a1a10" opacity="0.15"/><rect x="1832" y="611.5" width="7" height="148" fill="#fff"/><rect x="1773.5" y="656.3" width="201" height="7" fill="#fff"/><rect x="1900.4" y="611.5" width="7" height="148" fill="#fff"/><rect x="1773.5" y="707.7" width="201" height="7" fill="#fff"/></g>
<rect x="1795" y="633" width="210.5" height="155.5" fill="#fff"/><g><use href="#ph1b" x="1802" y="640" width="203.5" height="148.5"/><rect x="1861" y="639.5" width="7" height="149.5" fill="#fff"/><rect x="1801.5" y="684.8" width="204.5" height="7" fill="#fff"/><rect x="1930.6" y="639.5" width="7" height="149.5" fill="#fff"/><rect x="1801.5" y="736.7" width="204.5" height="7" fill="#fff"/></g>
<g stroke="#1a1a1a" stroke-width="1.8" fill="#fff"><circle cx="2035" cy="705" r="24.6"/><path d="M2010.4 705H2059.6M2035 680.4V729.6" fill="none"/></g>
<g><rect x="2067" y="623" width="48" height="33.3" fill="#e6b87d" stroke="#9a9a9a" stroke-width="0.9"/><rect x="2115" y="623" width="48" height="33.3" fill="#d9d9d9" stroke="#9a9a9a" stroke-width="0.9"/><rect x="2163" y="623" width="48" height="33.3" fill="#d9d9d9" stroke="#9a9a9a" stroke-width="0.9"/><rect x="2067" y="656.3" width="48" height="33.3" fill="#d9d9d9" stroke="#9a9a9a" stroke-width="0.9"/><rect x="2115" y="656.3" width="48" height="33.3" fill="#d9d9d9" stroke="#9a9a9a" stroke-width="0.9"/><rect x="2163" y="656.3" width="48" height="33.3" fill="#d9d9d9" stroke="#9a9a9a" stroke-width="0.9"/><rect x="2067" y="689.7" width="48" height="33.3" fill="#d9d9d9" stroke="#9a9a9a" stroke-width="0.9"/><rect x="2115" y="689.7" width="48" height="33.3" fill="#d9d9d9" stroke="#9a9a9a" stroke-width="0.9"/><rect x="2163" y="689.7" width="48" height="33.3" fill="#d9d9d9" stroke="#9a9a9a" stroke-width="0.9"/><rect x="2067" y="623" width="144" height="100" fill="none" stroke="#747474" stroke-width="1.4"/><text x="2091" y="647.9" font-family='"Liberation Sans", Arial, Helvetica, sans-serif' font-size="23" fill="#333" text-anchor="middle">0</text></g>
<g><rect x="2089" y="639" width="48" height="33" fill="#d9d9d9" stroke="#9a9a9a" stroke-width="0.9"/><rect x="2137" y="639" width="48" height="33" fill="#d9d9d9" stroke="#9a9a9a" stroke-width="0.9"/><rect x="2185" y="639" width="48" height="33" fill="#d9d9d9" stroke="#9a9a9a" stroke-width="0.9"/><rect x="2089" y="672" width="48" height="33" fill="#d9d9d9" stroke="#9a9a9a" stroke-width="0.9"/><rect x="2137" y="672" width="48" height="33" fill="#d9d9d9" stroke="#9a9a9a" stroke-width="0.9"/><rect x="2185" y="672" width="48" height="33" fill="#d9d9d9" stroke="#9a9a9a" stroke-width="0.9"/><rect x="2089" y="705" width="48" height="33" fill="#e6b87d" stroke="#9a9a9a" stroke-width="0.9"/><rect x="2137" y="705" width="48" height="33" fill="#d9d9d9" stroke="#9a9a9a" stroke-width="0.9"/><rect x="2185" y="705" width="48" height="33" fill="#d9d9d9" stroke="#9a9a9a" stroke-width="0.9"/><rect x="2089" y="639" width="144" height="99" fill="none" stroke="#747474" stroke-width="1.4"/><text x="2113" y="729.8" font-family='"Liberation Sans", Arial, Helvetica, sans-serif' font-size="23" fill="#333" text-anchor="middle">6</text></g>
<g><rect x="2117" y="665.6" width="48" height="33.3" fill="#d9d9d9" stroke="#9a9a9a" stroke-width="0.9"/><rect x="2165" y="665.6" width="48" height="33.3" fill="#e6b87d" stroke="#9a9a9a" stroke-width="0.9"/><rect x="2213" y="665.6" width="48" height="33.3" fill="#d9d9d9" stroke="#9a9a9a" stroke-width="0.9"/><rect x="2117" y="698.9" width="48" height="33.3" fill="#d9d9d9" stroke="#9a9a9a" stroke-width="0.9"/><rect x="2165" y="698.9" width="48" height="33.3" fill="#d9d9d9" stroke="#9a9a9a" stroke-width="0.9"/><rect x="2213" y="698.9" width="48" height="33.3" fill="#e6b87d" stroke="#9a9a9a" stroke-width="0.9"/><rect x="2117" y="732.2" width="48" height="33.3" fill="#d9d9d9" stroke="#9a9a9a" stroke-width="0.9"/><rect x="2165" y="732.2" width="48" height="33.3" fill="#d9d9d9" stroke="#9a9a9a" stroke-width="0.9"/><rect x="2213" y="732.2" width="48" height="33.3" fill="#d9d9d9" stroke="#9a9a9a" stroke-width="0.9"/><rect x="2117" y="665.6" width="144" height="99.9" fill="none" stroke="#747474" stroke-width="1.4"/><text x="2189" y="690.5" font-family='"Liberation Sans", Arial, Helvetica, sans-serif' font-size="23" fill="#333" text-anchor="middle">1</text><text x="2237" y="723.8" font-family='"Liberation Sans", Arial, Helvetica, sans-serif' font-size="23" fill="#333" text-anchor="middle">5</text></g>
<rect x="37" y="901" width="2034.2" height="1116.7" fill="none" stroke="#151515" stroke-width="1.6" stroke-dasharray="17.2 17.3"/>
<text x="58" y="937" font-family='"Liberation Sans", Arial, Helvetica, sans-serif' font-weight="700" font-size="42.7" fill="#000" text-anchor="start">Federated Self-supervised Pretrain</text>
<text x="968.5" y="879" font-family='"Liberation Sans", Arial, Helvetica, sans-serif' font-weight="700" font-size="42.7" fill="#000" text-anchor="start">Frozen</text>
<text x="1848.6" y="1036.8" font-family='"Liberation Sans", Arial, Helvetica, sans-serif' font-weight="700" font-size="42.7" fill="#000" text-anchor="start">Frozen</text>
<text x="1495" y="1488" font-family='"Liberation Sans", Arial, Helvetica, sans-serif' font-weight="700" font-size="42.7" fill="#000" text-anchor="start">Server</text>
<rect x="70" y="973" width="1543" height="417" fill="none" stroke="#111" stroke-width="1.4" stroke-dasharray="5 4.4"/>
<rect x="80.7" y="958" width="430.6" height="453" fill="none" stroke="#bd5a56" stroke-width="5.4"/>
<g><use href="#ph1" x="98" y="1028" width="321" height="236"/><rect x="98" y="1028" width="321" height="236" fill="#3a1a10" opacity="0.28"/><rect x="200.3" y="1027.5" width="7" height="237" fill="#fff"/><rect x="97.5" y="1102" width="322" height="7" fill="#fff"/><rect x="309.7" y="1027.5" width="7" height="237" fill="#fff"/><rect x="97.5" y="1183" width="322" height="7" fill="#fff"/></g>
<rect x="134" y="1049" width="328" height="244" fill="#fff"/><g><use href="#ph1" x="141" y="1056" width="321" height="237"/><rect x="141" y="1056" width="321" height="237" fill="#3a1a10" opacity="0.15"/><rect x="243.3" y="1055.5" width="7" height="238" fill="#fff"/><rect x="140.5" y="1130.3" width="322" height="7" fill="#fff"/><rect x="352.7" y="1055.5" width="7" height="238" fill="#fff"/><rect x="140.5" y="1211.7" width="322" height="7" fill="#fff"/></g>
<rect x="163" y="1081.6" width="329" height="243.4" fill="#fff"/><g><use href="#ph1" x="170" y="1088.6" width="322" height="236.4"/><rect x="272.7" y="1088.1" width="7" height="237.4" fill="#fff"/><rect x="169.5" y="1162.7" width="323" height="7" fill="#fff"/><rect x="382.3" y="1088.1" width="7" height="237.4" fill="#fff"/><rect x="169.5" y="1243.9" width="323" height="7" fill="#fff"/></g>
<g stroke="#1a1a1a" stroke-width="1.8" fill="#fff"><circle cx="535" cy="1196" r="25"/><path d="M510 1196H560M535 1171V1221" fill="none"/></g>
<g><rect x="567" y="1113.5" width="71.7" height="43.3" fill="#d9d9d9" stroke="#9a9a9a" stroke-width="0.9"/><rect x="638.7" y="1113.5" width="71.7" height="43.3" fill="#e6b87d" stroke="#9a9a9a" stroke-width="0.9"/><rect x="710.3" y="1113.5" width="71.7" height="43.3" fill="#d9d9d9" stroke="#9a9a9a" stroke-width="0.9"/><rect x="567" y="1156.8" width="71.7" height="43.3" fill="#d9d9d9" stroke="#9a9a9a" stroke-width="0.9"/><rect x="638.7" y="1156.8" width="71.7" height="43.3" fill="#d9d9d9" stroke="#9a9a9a" stroke-width="0.9"/><rect x="710.3" y="1156.8" width="71.7" height="43.3" fill="#d9d9d9" stroke="#9a9a9a" stroke-width="0.9"/><rect x="567" y="1200.2" width="71.7" height="43.3" fill="#e6b87d" stroke="#9a9a9a" stroke-width="0.9"/><rect x="638.7" y="1200.2" width="71.7" height="43.3" fill="#d9d9d9" stroke="#9a9a9a" stroke-width="0.9"/><rect x="710.3" y="1200.2" width="71.7" height="43.3" fill="#d9d9d9" stroke="#9a9a9a" stroke-width="0.9"/><rect x="567" y="1113.5" width="215" height="130" fill="none" stroke="#747474" stroke-width="1.4"/><text x="674.5" y="1143.4" font-family='"Liberation Sans", Arial, Helvetica, sans-serif' font-size="23" fill="#333" text-anchor="middle">1</text></g>
<g><rect x="595.6" y="1142" width="71.7" height="43.2" fill="#d9d9d9" stroke="#9a9a9a" stroke-width="0.9"/><rect x="667.3" y="1142" width="71.7" height="43.2" fill="#d9d9d9" stroke="#9a9a9a" stroke-width="0.9"/><rect x="739" y="1142" width="71.7" height="43.2" fill="#d9d9d9" stroke="#9a9a9a" stroke-width="0.9"/><rect x="595.6" y="1185.2" width="71.7" height="43.2" fill="#e6b87d" stroke="#9a9a9a" stroke-width="0.9"/><rect x="667.3" y="1185.2" width="71.7" height="43.2" fill="#d9d9d9" stroke="#9a9a9a" stroke-width="0.9"/><rect x="739" y="1185.2" width="71.7" height="43.2" fill="#d9d9d9" stroke="#9a9a9a" stroke-width="0.9"/><rect x="595.6" y="1228.3" width="71.7" height="43.2" fill="#d9d9d9" stroke="#9a9a9a" stroke-width="0.9"/><rect x="667.3" y="1228.3" width="71.7" height="43.2" fill="#d9d9d9" stroke="#9a9a9a" stroke-width="0.9"/><rect x="739" y="1228.3" width="71.7" height="43.2" fill="#d9d9d9" stroke="#9a9a9a" stroke-width="0.9"/><rect x="595.6" y="1142" width="215.1" height="129.5" fill="none" stroke="#747474" stroke-width="1.4"/></g>
<g><rect x="624" y="1170" width="69" height="43.3" fill="#d9d9d9" stroke="#9a9a9a" stroke-width="0.9"/><rect x="693" y="1170" width="69" height="43.3" fill="#e6b87d" stroke="#9a9a9a" stroke-width="0.9"/><rect x="762" y="1170" width="69" height="43.3" fill="#d9d9d9" stroke="#9a9a9a" stroke-width="0.9"/><rect x="624" y="1213.3" width="69" height="43.3" fill="#d9d9d9" stroke="#9a9a9a" stroke-width="0.9"/><rect x="693" y="1213.3" width="69" height="43.3" fill="#d9d9d9" stroke="#9a9a9a" stroke-width="0.9"/><rect x="762" y="1213.3" width="69" height="43.3" fill="#e6b87d" stroke="#9a9a9a" stroke-width="0.9"/><rect x="624" y="1256.7" width="69" height="43.3" fill="#d9d9d9" stroke="#9a9a9a" stroke-width="0.9"/><rect x="693" y="1256.7" width="69" height="43.3" fill="#d9d9d9" stroke="#9a9a9a" stroke-width="0.9"/><rect x="762" y="1256.7" width="69" height="43.3" fill="#d9d9d9" stroke="#9a9a9a" stroke-width="0.9"/><rect x="624" y="1170" width="207" height="130" fill="none" stroke="#747474" stroke-width="1.4"/><text x="727.5" y="1199.9" font-family='"Liberation Sans", Arial, Helvetica, sans-serif' font-size="23" fill="#333" text-anchor="middle">1</text><text x="796.5" y="1243.3" font-family='"Liberation Sans", Arial, Helvetica, sans-serif' font-size="23" fill="#333" text-anchor="middle">5</text></g>
<polygon points="832,1205.5 893.6,1205.5 893.6,1220.5 921.6,1198 893.6,1175.5 893.6,1190.5 832,1190.5" fill="#fff2cc" stroke="#d9bc62" stroke-width="1.3" stroke-linejoin="miter"/>
<text transform="translate(84 1368) scale(1.151 1)" font-family='"Liberation Serif", "Times New Roman", serif' font-style="italic" font-size="48" fill="#000"><tspan x="0" y="0">Client</tspan><tspan x="118.8" y="7.2" font-size="33.6" font-style="normal">1</tspan></text>
<text transform="translate(315 1360) scale(1.117 1)" font-family='"Liberation Serif", "Times New Roman", serif' font-style="italic" font-size="50" fill="#000"><tspan x="0" y="0">x + x</tspan><tspan x="104.6" y="7.5" font-size="35">aug</tspan></text>
<rect x="908.7" y="1001.4" width="350.5" height="372.1" fill="none" stroke="#484848" stroke-width="2.1" stroke-dasharray="17.2 17.3"/>
<rect x="923" y="1013" width="159" height="345" rx="21" ry="21" fill="#f8cecc" stroke="#c9706c" stroke-width="1.3"/>
<rect x="1125" y="1013" width="130" height="345" rx="21" ry="21" fill="#f8cecc" stroke="#c9706c" stroke-width="1.3"/>
<g stroke="#1a1a1a" stroke-width="1.8" fill="#fff"><circle cx="1104" cy="1196" r="23.5"/><path d="M1080.5 1196H1127.5M1104 1172.5V1219.5" fill="none"/></g>
<text transform="translate(965.3 1206) scale(1.073 1)" font-family='"Liberation Serif", "Times New Roman", serif' font-style="italic" font-size="66" fill="#000"><tspan x="0" y="0">E</tspan><tspan x="42.3" y="9.9" font-size="46.2" font-style="normal">1</tspan></text>
<text transform="translate(1148.7 1206) scale(1.071 1)" font-family='"Liberation Serif", "Times New Roman", serif' font-style="italic" font-size="66" fill="#000"><tspan x="0" y="0">D</tspan><tspan x="49.6" y="-29" font-size="46.2" font-style="normal">2</tspan><tspan x="47" y="14.5" font-size="46.2" font-style="normal">1</tspan></text>
<polygon points="1238,1207.5 1296,1207.5 1296,1222.5 1324,1200 1296,1177.5 1296,1192.5 1238,1192.5" fill="#fff2cc" stroke="#d9bc62" stroke-width="1.3" stroke-linejoin="miter"/>
<g><rect x="1324" y="1128" width="71.9" height="43" fill="#d9d9d9" stroke="#9a9a9a" stroke-width="0.9"/><rect x="1395.9" y="1128" width="71.9" height="43" fill="#ffffff" stroke="none"/><rect x="1467.7" y="1128" width="71.9" height="43" fill="#e6b87d" stroke="#9a9a9a" stroke-width="0.9"/><rect x="1324" y="1171" width="71.9" height="43" fill="#e6b87d" stroke="#9a9a9a" stroke-width="0.9"/><rect x="1395.9" y="1171" width="71.9" height="43" fill="#ffffff" stroke="none"/><rect x="1467.7" y="1171" width="71.9" height="43" fill="#ffffff" stroke="none"/><rect x="1324" y="1214" width="71.9" height="43" fill="#ffffff" stroke="none"/><rect x="1395.9" y="1214" width="71.9" height="43" fill="#ffffff" stroke="none"/><rect x="1467.7" y="1214" width="71.9" height="43" fill="#ffffff" stroke="none"/><rect x="1324" y="1128" width="215.6" height="129" fill="none" stroke="#747474" stroke-width="1.4"/></g>
<g><rect x="1353" y="1156" width="71.9" height="43.2" fill="#d9d9d9" stroke="#9a9a9a" stroke-width="0.9"/><rect x="1424.9" y="1156" width="71.9" height="43.2" fill="#e6b87d" stroke="#9a9a9a" stroke-width="0.9"/><rect x="1496.7" y="1156" width="71.9" height="43.2" fill="#d9d9d9" stroke="#9a9a9a" stroke-width="0.9"/><rect x="1353" y="1199.2" width="71.9" height="43.2" fill="#ffffff" stroke="none"/><rect x="1424.9" y="1199.2" width="71.9" height="43.2" fill="#ffffff" stroke="none"/><rect x="1496.7" y="1199.2" width="71.9" height="43.2" fill="#ffffff" stroke="none"/><rect x="1353" y="1242.4" width="71.9" height="43.2" fill="#d9d9d9" stroke="#9a9a9a" stroke-width="0.9"/><rect x="1424.9" y="1242.4" width="71.9" height="43.2" fill="#ffffff" stroke="none"/><rect x="1496.7" y="1242.4" width="71.9" height="43.2" fill="#ffffff" stroke="none"/><rect x="1353" y="1156" width="215.6" height="129.6" fill="none" stroke="#747474" stroke-width="1.4"/><text x="1460.8" y="1185.9" font-family='"Liberation Sans", Arial, Helvetica, sans-serif' font-size="23" fill="#333" text-anchor="middle">1</text></g>
<g><rect x="1381.5" y="1185" width="71.8" height="43.2" fill="#e6b87d" stroke="#9a9a9a" stroke-width="0.9"/><rect x="1453.3" y="1185" width="71.8" height="43.2" fill="#ffffff" stroke="none"/><rect x="1525.2" y="1185" width="71.8" height="43.2" fill="#e6b87d" stroke="#9a9a9a" stroke-width="0.9"/><rect x="1381.5" y="1228.2" width="71.8" height="43.2" fill="#d9d9d9" stroke="#9a9a9a" stroke-width="0.9"/><rect x="1453.3" y="1228.2" width="71.8" height="43.2" fill="#e6b87d" stroke="#9a9a9a" stroke-width="0.9"/><rect x="1525.2" y="1228.2" width="71.8" height="43.2" fill="#ffffff" stroke="none"/><rect x="1381.5" y="1271.4" width="71.8" height="43.2" fill="#e6b87d" stroke="#9a9a9a" stroke-width="0.9"/><rect x="1453.3" y="1271.4" width="71.8" height="43.2" fill="#d9d9d9" stroke="#9a9a9a" stroke-width="0.9"/><rect x="1525.2" y="1271.4" width="71.8" height="43.2" fill="#d9d9d9" stroke="#9a9a9a" stroke-width="0.9"/><rect x="1381.5" y="1185" width="215.5" height="129.6" fill="none" stroke="#747474" stroke-width="1.4"/><text x="1417.4" y="1214.9" font-family='"Liberation Sans", Arial, Helvetica, sans-serif' font-size="23" fill="#333" text-anchor="middle">0</text><text x="1561.1" y="1214.9" font-family='"Liberation Sans", Arial, Helvetica, sans-serif' font-size="23" fill="#333" text-anchor="middle">2</text><text x="1489.2" y="1258.1" font-family='"Liberation Sans", Arial, Helvetica, sans-serif' font-size="23" fill="#333" text-anchor="middle">4</text></g>
<rect x="602" y="1384.8" width="16" height="16" fill="#000"/>
<rect x="602" y="1453" width="16" height="16" fill="#000"/>
<rect x="602" y="1521.8" width="16" height="16" fill="#000"/>
<rect x="1132.5" y="1384.8" width="16" height="16" fill="#000"/>
<rect x="1132.5" y="1453" width="16" height="16" fill="#000"/>
<rect x="1132.5" y="1521.8" width="16" height="16" fill="#000"/>
<rect x="71.5" y="1546" width="1541.5" height="443" fill="none" stroke="#111" stroke-width="1.4" stroke-dasharray="5 4.4"/>
<g><use href="#phn" x="84" y="1592" width="322" height="251"/><rect x="186.7" y="1591.5" width="7" height="252" fill="#fff"/><rect x="83.5" y="1671" width="323" height="7" fill="#fff"/><rect x="296.3" y="1591.5" width="7" height="252" fill="#fff"/><rect x="83.5" y="1757" width="323" height="7" fill="#fff"/></g>
<rect x="105" y="1628" width="330" height="258" fill="#fff"/><g><use href="#phn" x="112" y="1635" width="323" height="251"/><rect x="215" y="1634.5" width="7" height="252" fill="#fff"/><rect x="111.5" y="1714" width="324" height="7" fill="#fff"/><rect x="325" y="1634.5" width="7" height="252" fill="#fff"/><rect x="111.5" y="1800" width="324" height="7" fill="#fff"/></g>
<rect x="163" y="1657" width="329" height="257" fill="#fff"/><g><use href="#phn" x="170" y="1664" width="322" height="250"/><rect x="272.7" y="1663.5" width="7" height="251" fill="#fff"/><rect x="169.5" y="1742.7" width="323" height="7" fill="#fff"/><rect x="382.3" y="1663.5" width="7" height="251" fill="#fff"/><rect x="169.5" y="1828.3" width="323" height="7" fill="#fff"/></g>
<g stroke="#1a1a1a" stroke-width="1.8" fill="#fff"><circle cx="537.6" cy="1749" r="25"/><path d="M512.6 1749H562.6M537.6 1724V1774" fill="none"/></g>
<g><rect x="568" y="1666.7" width="71.8" height="43" fill="#d9d9d9" stroke="#9a9a9a" stroke-width="0.9"/><rect x="639.8" y="1666.7" width="71.8" height="43" fill="#e6b87d" stroke="#9a9a9a" stroke-width="0.9"/><rect x="711.7" y="1666.7" width="71.8" height="43" fill="#d9d9d9" stroke="#9a9a9a" stroke-width="0.9"/><rect x="568" y="1709.7" width="71.8" height="43" fill="#d9d9d9" stroke="#9a9a9a" stroke-width="0.9"/><rect x="639.8" y="1709.7" width="71.8" height="43" fill="#d9d9d9" stroke="#9a9a9a" stroke-width="0.9"/><rect x="711.7" y="1709.7" width="71.8" height="43" fill="#d9d9d9" stroke="#9a9a9a" stroke-width="0.9"/><rect x="568" y="1752.8" width="71.8" height="43" fill="#d9d9d9" stroke="#9a9a9a" stroke-width="0.9"/><rect x="639.8" y="1752.8" width="71.8" height="43" fill="#d9d9d9" stroke="#9a9a9a" stroke-width="0.9"/><rect x="711.7" y="1752.8" width="71.8" height="43" fill="#d9d9d9" stroke="#9a9a9a" stroke-width="0.9"/><rect x="568" y="1666.7" width="215.5" height="129.1" fill="none" stroke="#747474" stroke-width="1.4"/><text x="675.8" y="1696.5" font-family='"Liberation Sans", Arial, Helvetica, sans-serif' font-size="23" fill="#333" text-anchor="middle">1</text></g>
<g><rect x="597" y="1695.7" width="71.7" height="43" fill="#e6b87d" stroke="#9a9a9a" stroke-width="0.9"/><rect x="668.7" y="1695.7" width="71.7" height="43" fill="#d9d9d9" stroke="#9a9a9a" stroke-width="0.9"/><rect x="740.3" y="1695.7" width="71.7" height="43" fill="#d9d9d9" stroke="#9a9a9a" stroke-width="0.9"/><rect x="597" y="1738.7" width="71.7" height="43" fill="#d9d9d9" stroke="#9a9a9a" stroke-width="0.9"/><rect x="668.7" y="1738.7" width="71.7" height="43" fill="#d9d9d9" stroke="#9a9a9a" stroke-width="0.9"/><rect x="740.3" y="1738.7" width="71.7" height="43" fill="#d9d9d9" stroke="#9a9a9a" stroke-width="0.9"/><rect x="597" y="1781.7" width="71.7" height="43" fill="#d9d9d9" stroke="#9a9a9a" stroke-width="0.9"/><rect x="668.7" y="1781.7" width="71.7" height="43" fill="#e6b87d" stroke="#9a9a9a" stroke-width="0.9"/><rect x="740.3" y="1781.7" width="71.7" height="43" fill="#d9d9d9" stroke="#9a9a9a" stroke-width="0.9"/><rect x="597" y="1695.7" width="215" height="129" fill="none" stroke="#747474" stroke-width="1.4"/><text x="632.8" y="1725.5" font-family='"Liberation Sans", Arial, Helvetica, sans-serif' font-size="23" fill="#333" text-anchor="middle">0</text></g>
<g><rect x="625.5" y="1724" width="71.5" height="43.2" fill="#d9d9d9" stroke="#9a9a9a" stroke-width="0.9"/><rect x="697" y="1724" width="71.5" height="43.2" fill="#d9d9d9" stroke="#9a9a9a" stroke-width="0.9"/><rect x="768.5" y="1724" width="71.5" height="43.2" fill="#d9d9d9" stroke="#9a9a9a" stroke-width="0.9"/><rect x="625.5" y="1767.2" width="71.5" height="43.2" fill="#d9d9d9" stroke="#9a9a9a" stroke-width="0.9"/><rect x="697" y="1767.2" width="71.5" height="43.2" fill="#e6b87d" stroke="#9a9a9a" stroke-width="0.9"/><rect x="768.5" y="1767.2" width="71.5" height="43.2" fill="#d9d9d9" stroke="#9a9a9a" stroke-width="0.9"/><rect x="625.5" y="1810.5" width="71.5" height="43.2" fill="#e6b87d" stroke="#9a9a9a" stroke-width="0.9"/><rect x="697" y="1810.5" width="71.5" height="43.2" fill="#d9d9d9" stroke="#9a9a9a" stroke-width="0.9"/><rect x="768.5" y="1810.5" width="71.5" height="43.2" fill="#d9d9d9" stroke="#9a9a9a" stroke-width="0.9"/><rect x="625.5" y="1724" width="214.5" height="129.7" fill="none" stroke="#747474" stroke-width="1.4"/><text x="732.8" y="1797.1" font-family='"Liberation Sans", Arial, Helvetica, sans-serif' font-size="23" fill="#333" text-anchor="middle">4</text><text x="661.2" y="1840.4" font-family='"Liberation Sans", Arial, Helvetica, sans-serif' font-size="23" fill="#333" text-anchor="middle">6</text></g>
<polygon points="840,1762.5 896.5,1762.5 896.5,1777.5 924.5,1755 896.5,1732.5 896.5,1747.5 840,1747.5" fill="#fff2cc" stroke="#d9bc62" stroke-width="1.3" stroke-linejoin="miter"/>
<text transform="translate(68 1972) scale(1.232 1)" font-family='"Liberation Serif", "Times New Roman", serif' font-style="italic" font-size="48" fill="#000"><tspan x="0" y="0">Client</tspan><tspan x="118.8" y="7.2" font-size="33.6">N</tspan></text>
<text transform="translate(296.6 1977) scale(1.116 1)" font-family='"Liberation Serif", "Times New Roman", serif' font-style="italic" font-size="50" fill="#000"><tspan x="0" y="0">x + x</tspan><tspan x="104.6" y="7.5" font-size="35">aug</tspan></text>
<rect x="925" y="1577.5" width="152" height="344.2" rx="24" ry="24" fill="#ffe6cc" stroke="#d9a520" stroke-width="1.3"/>
<rect x="1127" y="1577.5" width="107" height="344.2" rx="20" ry="20" fill="#ffe6cc" stroke="#d9a520" stroke-width="1.3"/>
<g stroke="#1a1a1a" stroke-width="1.8" fill="#fff"><circle cx="1101" cy="1752" r="24"/><path d="M1077 1752H1125M1101 1728V1776" fill="none"/></g>
<text transform="translate(955 1771.8) scale(1.245 1)" font-family='"Liberation Serif", "Times New Roman", serif' font-style="italic" font-size="66" fill="#000"><tspan x="0" y="0">E</tspan><tspan x="42.3" y="9.9" font-size="46.2">N</tspan></text>
<text transform="translate(1132 1771.8) scale(1.193 1)" font-family='"Liberation Serif", "Times New Roman", serif' font-style="italic" font-size="66" fill="#000"><tspan x="0" y="0">D</tspan><tspan x="49.6" y="-29" font-size="46.2" font-style="normal">2</tspan><tspan x="47" y="14.5" font-size="46.2">N</tspan></text>
<polygon points="1234.8,1759.5 1289.7,1759.5 1289.7,1774.5 1317.7,1752 1289.7,1729.5 1289.7,1744.5 1234.8,1744.5" fill="#fff2cc" stroke="#d9bc62" stroke-width="1.3" stroke-linejoin="miter"/>
<g><rect x="1317.7" y="1674" width="71.4" height="43.2" fill="#d9d9d9" stroke="#9a9a9a" stroke-width="0.9"/><rect x="1389.1" y="1674" width="71.4" height="43.2" fill="#ffffff" stroke="none"/><rect x="1460.6" y="1674" width="71.4" height="43.2" fill="#e6b87d" stroke="#9a9a9a" stroke-width="0.9"/><rect x="1317.7" y="1717.2" width="71.4" height="43.2" fill="#e6b87d" stroke="#9a9a9a" stroke-width="0.9"/><rect x="1389.1" y="1717.2" width="71.4" height="43.2" fill="#ffffff" stroke="none"/><rect x="1460.6" y="1717.2" width="71.4" height="43.2" fill="#ffffff" stroke="none"/><rect x="1317.7" y="1760.3" width="71.4" height="43.2" fill="#d9d9d9" stroke="#9a9a9a" stroke-width="0.9"/><rect x="1389.1" y="1760.3" width="71.4" height="43.2" fill="#ffffff" stroke="none"/><rect x="1460.6" y="1760.3" width="71.4" height="43.2" fill="#ffffff" stroke="none"/><rect x="1317.7" y="1674" width="214.3" height="129.5" fill="none" stroke="#747474" stroke-width="1.4"/></g>
<g><rect x="1346.6" y="1703" width="71.1" height="43" fill="#ffffff" stroke="none"/><rect x="1417.7" y="1703" width="71.1" height="43" fill="#e6b87d" stroke="#9a9a9a" stroke-width="0.9"/><rect x="1488.9" y="1703" width="71.1" height="43" fill="#d9d9d9" stroke="#9a9a9a" stroke-width="0.9"/><rect x="1346.6" y="1746" width="71.1" height="43" fill="#d9d9d9" stroke="#9a9a9a" stroke-width="0.9"/><rect x="1417.7" y="1746" width="71.1" height="43" fill="#ffffff" stroke="none"/><rect x="1488.9" y="1746" width="71.1" height="43" fill="#ffffff" stroke="none"/><rect x="1346.6" y="1789" width="71.1" height="43" fill="#ffffff" stroke="none"/><rect x="1417.7" y="1789" width="71.1" height="43" fill="#ffffff" stroke="none"/><rect x="1488.9" y="1789" width="71.1" height="43" fill="#ffffff" stroke="none"/><rect x="1346.6" y="1703" width="213.4" height="129" fill="none" stroke="#747474" stroke-width="1.4"/><text x="1453.3" y="1732.8" font-family='"Liberation Sans", Arial, Helvetica, sans-serif' font-size="23" fill="#333" text-anchor="middle">1</text></g>
<g><rect x="1374.7" y="1732" width="71.4" height="43" fill="#e6b87d" stroke="#9a9a9a" stroke-width="0.9"/><rect x="1446.1" y="1732" width="71.4" height="43" fill="#e6b87d" stroke="#9a9a9a" stroke-width="0.9"/><rect x="1517.6" y="1732" width="71.4" height="43" fill="#e6b87d" stroke="#9a9a9a" stroke-width="0.9"/><rect x="1374.7" y="1775" width="71.4" height="43" fill="#e6b87d" stroke="#9a9a9a" stroke-width="0.9"/><rect x="1446.1" y="1775" width="71.4" height="43" fill="#ffffff" stroke="none"/><rect x="1517.6" y="1775" width="71.4" height="43" fill="#d9d9d9" stroke="#9a9a9a" stroke-width="0.9"/><rect x="1374.7" y="1818" width="71.4" height="43" fill="#ffffff" stroke="none"/><rect x="1446.1" y="1818" width="71.4" height="43" fill="#d9d9d9" stroke="#9a9a9a" stroke-width="0.9"/><rect x="1517.6" y="1818" width="71.4" height="43" fill="#e6b87d" stroke="#9a9a9a" stroke-width="0.9"/><rect x="1374.7" y="1732" width="214.3" height="129" fill="none" stroke="#747474" stroke-width="1.4"/><text x="1410.4" y="1761.8" font-family='"Liberation Sans", Arial, Helvetica, sans-serif' font-size="23" fill="#333" text-anchor="middle">0</text><text x="1481.8" y="1761.8" font-family='"Liberation Sans", Arial, Helvetica, sans-serif' font-size="23" fill="#333" text-anchor="middle">1</text><text x="1553.3" y="1761.8" font-family='"Liberation Sans", Arial, Helvetica, sans-serif' font-size="23" fill="#333" text-anchor="middle">2</text><text x="1410.4" y="1804.8" font-family='"Liberation Sans", Arial, Helvetica, sans-serif' font-size="23" fill="#333" text-anchor="middle">3</text><text x="1553.3" y="1847.8" font-family='"Liberation Sans", Arial, Helvetica, sans-serif' font-size="23" fill="#333" text-anchor="middle">8</text></g>
<rect x="1670" y="1315" width="372.4" height="386" fill="none" stroke="#151515" stroke-width="1.6" stroke-dasharray="17.2 17.3"/>
<rect x="1698.7" y="1324.4" width="143.3" height="359.1" rx="17" ry="17" fill="#e1d5e7" stroke="#a98fbb" stroke-width="1.3"/>
<rect x="1890.7" y="1324.4" width="108.7" height="359.1" rx="17" ry="17" fill="#e1d5e7" stroke="#a98fbb" stroke-width="1.3"/>
<g stroke="#1a1a1a" stroke-width="1.8" fill="#fff"><circle cx="1866.3" cy="1507.8" r="25"/><path d="M1841.3 1507.8H1891.3M1866.3 1482.8V1532.8" fill="none"/></g>
<text transform="translate(1733.8 1524.4) scale(1.165 1)" font-family='"Liberation Serif", "Times New Roman", serif' font-style="italic" font-size="66" fill="#000"><tspan x="0" y="0">E</tspan><tspan x="42.3" y="9.9" font-size="46.2">s</tspan></text>
<text transform="translate(1905.9 1524.4) scale(1.059 1)" font-family='"Liberation Serif", "Times New Roman", serif' font-style="italic" font-size="66" fill="#000"><tspan x="0" y="0">D</tspan><tspan x="49.6" y="-29" font-size="46.2" font-style="normal">2</tspan><tspan x="47" y="14.5" font-size="46.2">s</tspan></text>
<path d="M1985 1314.5L1614.5 1035" stroke="#1a1a1a" stroke-width="1.45" fill="none"/>
<polygon points="1614.5,1035 1626.9,1038.6 1621.7,1040.4 1621.3,1045.9" fill="#1a1a1a" stroke="#1a1a1a" stroke-width="1"/>
<path d="M1613 1131.6L1841.3 1313.8" stroke="#1a1a1a" stroke-width="1.45" fill="none"/>
<polygon points="1841.3,1313.8 1829.1,1309.9 1834.3,1308.2 1834.8,1302.7" fill="#1a1a1a" stroke="#1a1a1a" stroke-width="1"/>
<path d="M1613.5 1862.2L1855 1702.5" stroke="#1a1a1a" stroke-width="1.45" fill="none"/>
<polygon points="1855,1702.5 1847.5,1713 1847.5,1707.5 1842.5,1705.3" fill="#1a1a1a" stroke="#1a1a1a" stroke-width="1"/>
<path d="M1982.6 1701.7L1615.5 1953.4" stroke="#1a1a1a" stroke-width="1.45" fill="none"/>
<polygon points="1615.5,1953.4 1622.8,1942.8 1622.9,1948.3 1628,1950.4" fill="#1a1a1a" stroke="#1a1a1a" stroke-width="1"/>
<text transform="translate(1822 1168) scale(1.050 1)" font-family='"Liberation Serif", "Times New Roman", serif' font-style="italic" font-size="50" fill="#000"><tspan x="0" y="0">w</tspan><tspan x="34.9" y="14" font-size="35" font-style="normal">1′</tspan></text>
<text transform="translate(1671 1264) scale(1.003 1)" font-family='"Liberation Serif", "Times New Roman", serif' font-style="italic" font-size="50" fill="#000"><tspan x="0" y="0">w</tspan><tspan x="34.9" y="8" font-size="35" font-style="normal">1</tspan></text>
<text transform="translate(1663.9 1772.8) scale(1.156 1)" font-family='"Liberation Serif", "Times New Roman", serif' font-style="italic" font-size="50" fill="#000"><tspan x="0" y="0">w</tspan><tspan x="34.9" y="7.8" font-size="35">N</tspan></text>
<text transform="translate(1770.9 1878.1) scale(1.192 1)" font-family='"Liberation Serif", "Times New Roman", serif' font-style="italic" font-size="50" fill="#000"><tspan x="0" y="0">w</tspan><tspan x="34.9" y="14.7" font-size="35">N′</tspan></text>
<path d="M1990.8 1521H2091.1V1316.3H2200" fill="none" stroke="#1a1a1a" stroke-width="1.45"/>
<path d="M2190 1316.3L2213.5 1316.3" stroke="#1a1a1a" stroke-width="1.45" fill="none"/>
<polygon points="2213.5,1316.3 2201.5,1320.9 2204.5,1316.3 2201.5,1311.7" fill="#1a1a1a" stroke="#1a1a1a" stroke-width="1"/>
<rect x="2114.2" y="972.6" width="501.3" height="571.9" fill="none" stroke="#151515" stroke-width="1.5" stroke-dasharray="11.5 11.2"/>
<text x="2364" y="1024" font-family='"Liberation Sans", Arial, Helvetica, sans-serif' font-weight="700" font-size="42.7" fill="#000" text-anchor="middle">Federated Supervised</text>
<text x="2358" y="1075" font-family='"Liberation Sans", Arial, Helvetica, sans-serif' font-weight="700" font-size="42.7" fill="#000" text-anchor="middle">Finetune</text>
<g><use href="#ph3b" x="2150.7" y="1100.7" width="152.6" height="85.8"/></g>
<g><use href="#ph3" x="2179" y="1129.6" width="152.7" height="85.6"/></g>
<g stroke="#1a1a1a" stroke-width="1.8" fill="#fff"><circle cx="2357.6" cy="1172.8" r="25"/><path d="M2332.6 1172.8H2382.6M2357.6 1147.8V1197.8" fill="none"/></g>
<rect x="2382" y="1137" width="204.5" height="72.3" rx="10" ry="10" fill="#d5e8d4" stroke="#8fbf77" stroke-width="1.3"/>
<text transform="translate(2407 1192) scale(1.012 1)" font-family='"Liberation Serif", "Times New Roman", serif' font-style="italic" font-size="67" fill="#000"><tspan x="0" y="0">Label</tspan></text>
<polygon points="2350.3,1201.7 2350.3,1246.3 2335.1,1246.3 2357.6,1273 2380.1,1246.3 2364.8,1246.3 2364.8,1201.7" fill="#fff2cc" stroke="#d9bc62" stroke-width="1.3" stroke-linejoin="miter"/>
<rect x="2213.7" y="1273" width="287.6" height="101" rx="12" ry="12" fill="url(#hgrey)" stroke="#7d7ab5" stroke-width="1.3"/>
<text transform="translate(2321 1344) scale(1.141 1)" font-family='"Liberation Serif", "Times New Roman", serif' font-style="italic" font-size="66" fill="#000"><tspan x="0" y="0">E</tspan><tspan x="42.3" y="9.9" font-size="46.2">s</tspan></text>
<g stroke="#1a1a1a" stroke-width="1.8" fill="#fff"><circle cx="2357.5" cy="1398" r="24.7"/><path d="M2332.8 1398H2382.2M2357.5 1373.3V1422.7" fill="none"/></g>
<rect x="2250" y="1423.8" width="215" height="78.5" rx="12" ry="12" fill="#e1d5e7" stroke="#a488b5" stroke-width="1.3"/>
<text transform="translate(2296 1478.7) scale(1.106 1)" font-family='"Liberation Serif", "Times New Roman", serif' font-style="italic" font-size="66" fill="#000"><tspan x="0" y="0">H</tspan><tspan x="49.6" y="9.9" font-size="46.2">seg</tspan></text>
<g><rect x="2099" y="1657" width="26" height="26.5" fill="#67bf6b" stroke="#2f5f30" stroke-width="0.8" stroke-opacity=".6"/><rect x="2125" y="1657" width="26" height="26.5" fill="#cfe5cf" stroke="#2f5f30" stroke-width="0.8" stroke-opacity=".6"/><rect x="2151" y="1657" width="26" height="26.5" fill="#67bf6b" stroke="#2f5f30" stroke-width="0.8" stroke-opacity=".6"/><rect x="2177" y="1657" width="26" height="26.5" fill="#cfe5cf" stroke="#2f5f30" stroke-width="0.8" stroke-opacity=".6"/><rect x="2203" y="1657" width="26" height="26.5" fill="#67bf6b" stroke="#2f5f30" stroke-width="0.8" stroke-opacity=".6"/><rect x="2099" y="1657" width="130" height="26.5" fill="none" stroke="#2f5f30" stroke-width="2"/></g>
<g><rect x="2099" y="1735.7" width="26" height="26.9" fill="#4b9cf5" stroke="#4a7ec0" stroke-width="0.8" stroke-opacity=".6"/><rect x="2125" y="1735.7" width="26" height="26.9" fill="#d4e3f8" stroke="#4a7ec0" stroke-width="0.8" stroke-opacity=".6"/><rect x="2151" y="1735.7" width="26" height="26.9" fill="#4b9cf5" stroke="#4a7ec0" stroke-width="0.8" stroke-opacity=".6"/><rect x="2177" y="1735.7" width="26" height="26.9" fill="#d4e3f8" stroke="#4a7ec0" stroke-width="0.8" stroke-opacity=".6"/><rect x="2203" y="1735.7" width="26" height="26.9" fill="#4b9cf5" stroke="#4a7ec0" stroke-width="0.8" stroke-opacity=".6"/><rect x="2099" y="1735.7" width="130" height="26.9" fill="none" stroke="#4a7ec0" stroke-width="2"/></g>
<text x="2257" y="1682" font-family='"Liberation Sans", Arial, Helvetica, sans-serif' font-weight="700" font-size="42.7" fill="#000" text-anchor="start">Original image features</text>
<text x="2234" y="1762.6" font-family='"Liberation Sans", Arial, Helvetica, sans-serif' font-weight="700" font-size="42.7" fill="#000" text-anchor="start">Augmented image features</text>
<g transform="translate(2073 1785)" fill="#d5e8d4" stroke="#9cc78a" stroke-width="1.6" stroke-linejoin="miter"><path d="M85.6 98.3H58.9A31 31 0 0 1 58.9 36.2V25.8L89.7 41.7L58.9 58V47.6A19 19 0 0 0 58.9 85.6H85.6Z"/><path d="M85.6 98.3H58.9A31 31 0 0 1 58.9 36.2V25.8L89.7 41.7L58.9 58V47.6A19 19 0 0 0 58.9 85.6H85.6Z" transform="rotate(180 93.2 69.3)"/></g>
<text x="2299.8" y="1863" font-family='"Liberation Sans", Arial, Helvetica, sans-serif' font-weight="700" font-size="42.7" fill="#000" text-anchor="start">Alternate iterations</text>
<polygon points="2127,1951.5 2184,1951.5 2184,1966.5 2212,1944 2184,1921.5 2184,1936.5 2127,1936.5" fill="#fff2cc" stroke="#d9bc62" stroke-width="1.3" stroke-linejoin="miter"/>
<text x="2357.5" y="1956" font-family='"Liberation Sans", Arial, Helvetica, sans-serif' font-weight="700" font-size="42.7" fill="#000" text-anchor="start">Data stream</text>
</svg></body></html>
